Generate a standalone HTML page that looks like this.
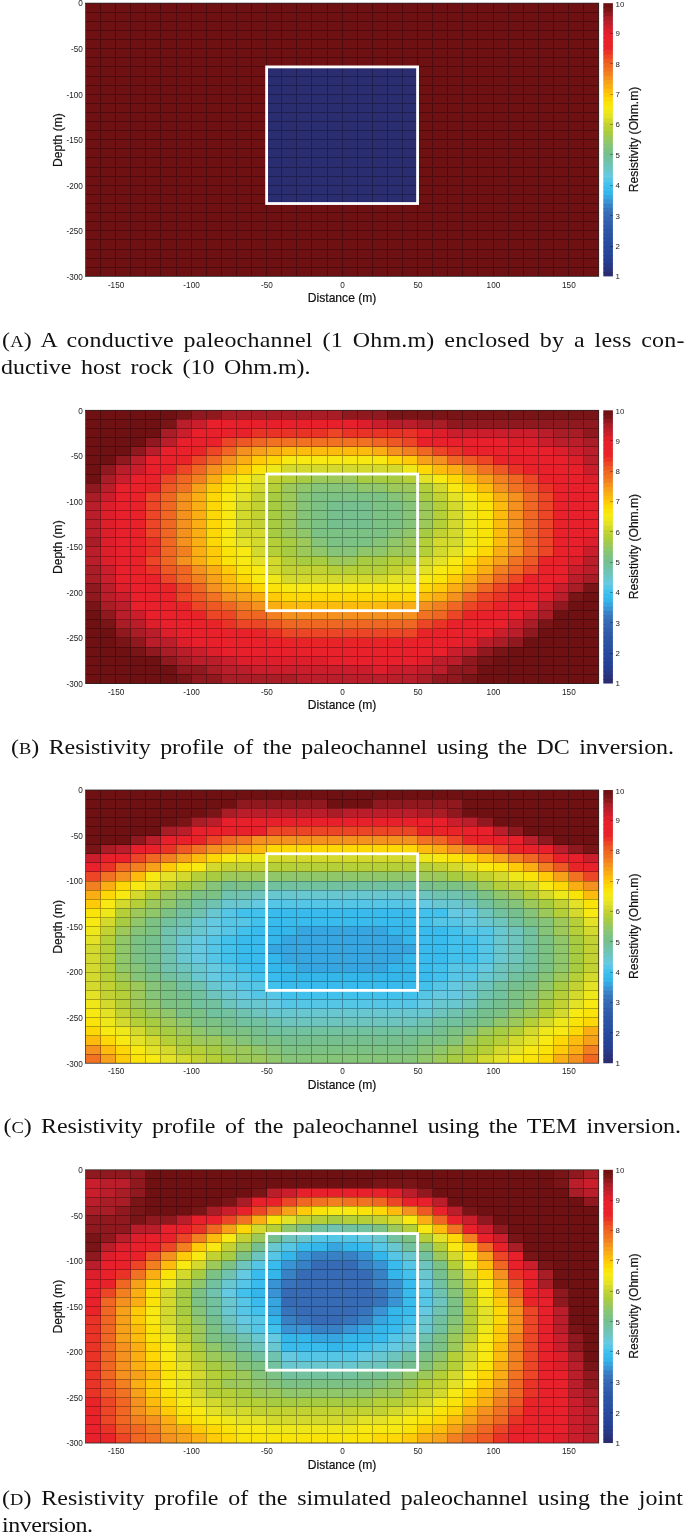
<!DOCTYPE html><html><head><meta charset="utf-8"><title>Resistivity profiles</title><style>
html,body{margin:0;padding:0;background:#fff}svg{display:block}.t{font-family:"Liberation Sans",Arial,sans-serif;font-size:8.2px;fill:#1c1c1c}.l{font-family:"Liberation Sans",Arial,sans-serif;font-size:12.1px;fill:#111;stroke:#111;stroke-width:.2}.c{font-family:"Liberation Serif","Times New Roman",serif;font-size:21.4px;fill:#111;word-spacing:3.2px}.sc{font-size:16.5px}.u{font-size:7.9px}.g{stroke:#000;stroke-width:1;stroke-opacity:.3;fill:none;shape-rendering:crispEdges}.b{stroke:#fff;stroke-width:2.8;fill:none}.a{stroke:#262626;stroke-width:.8;fill:none}
</style></head><body>
<svg width="685" height="1533" viewBox="0 0 685 1533">
<rect width="685" height="1533" fill="#fff"/>
<g transform="translate(85.5,3.15)">
<g shape-rendering="crispEdges">
<path fill="#6f1113" d="M0 0h513.2v9.11h-513.2zM0 9.11h513.2v9.11h-513.2zM0 18.22h513.2v9.11h-513.2zM0 27.32h513.2v9.11h-513.2zM0 36.43h513.2v9.11h-513.2zM0 45.54h513.2v9.11h-513.2zM0 54.65h513.2v9.11h-513.2zM0 63.76h181.13v9.11h-181.13zM332.07 63.76h181.13v9.11h-181.13zM0 72.86h181.13v9.11h-181.13zM332.07 72.86h181.13v9.11h-181.13zM0 81.97h181.13v9.11h-181.13zM332.07 81.97h181.13v9.11h-181.13zM0 91.08h181.13v9.11h-181.13zM332.07 91.08h181.13v9.11h-181.13zM0 100.19h181.13v9.11h-181.13zM332.07 100.19h181.13v9.11h-181.13zM0 109.3h181.13v9.11h-181.13zM332.07 109.3h181.13v9.11h-181.13zM0 118.4h181.13v9.11h-181.13zM332.07 118.4h181.13v9.11h-181.13zM0 127.51h181.13v9.11h-181.13zM332.07 127.51h181.13v9.11h-181.13zM0 136.62h181.13v9.11h-181.13zM332.07 136.62h181.13v9.11h-181.13zM0 145.73h181.13v9.11h-181.13zM332.07 145.73h181.13v9.11h-181.13zM0 154.84h181.13v9.11h-181.13zM332.07 154.84h181.13v9.11h-181.13zM0 163.94h181.13v9.11h-181.13zM332.07 163.94h181.13v9.11h-181.13zM0 173.05h181.13v9.11h-181.13zM332.07 173.05h181.13v9.11h-181.13zM0 182.16h181.13v9.11h-181.13zM332.07 182.16h181.13v9.11h-181.13zM0 191.27h181.13v9.11h-181.13zM332.07 191.27h181.13v9.11h-181.13zM0 200.38h513.2v9.11h-513.2zM0 209.48h513.2v9.11h-513.2zM0 218.59h513.2v9.11h-513.2zM0 227.7h513.2v9.11h-513.2zM0 236.81h513.2v9.11h-513.2zM0 245.92h513.2v9.11h-513.2zM0 255.02h513.2v9.11h-513.2zM0 264.13h513.2v9.11h-513.2z"/>
<path fill="#2b2d71" d="M181.13 63.76h150.94v9.11h-150.94zM181.13 72.86h150.94v9.11h-150.94zM181.13 81.97h150.94v9.11h-150.94zM181.13 91.08h150.94v9.11h-150.94zM181.13 100.19h150.94v9.11h-150.94zM181.13 109.3h150.94v9.11h-150.94zM181.13 118.4h150.94v9.11h-150.94zM181.13 127.51h150.94v9.11h-150.94zM181.13 136.62h150.94v9.11h-150.94zM181.13 145.73h150.94v9.11h-150.94zM181.13 154.84h150.94v9.11h-150.94zM181.13 163.94h150.94v9.11h-150.94zM181.13 173.05h150.94v9.11h-150.94zM181.13 182.16h150.94v9.11h-150.94zM181.13 191.27h150.94v9.11h-150.94z"/>
</g>
<path class="g" d="M15.09 0v273.24M30.19 0v273.24M45.28 0v273.24M60.38 0v273.24M75.47 0v273.24M90.56 0v273.24M105.66 0v273.24M120.75 0v273.24M135.85 0v273.24M150.94 0v273.24M166.03 0v273.24M181.13 0v273.24M196.22 0v273.24M211.32 0v273.24M226.41 0v273.24M241.5 0v273.24M256.6 0v273.24M271.69 0v273.24M286.79 0v273.24M301.88 0v273.24M316.97 0v273.24M332.07 0v273.24M347.16 0v273.24M362.26 0v273.24M377.35 0v273.24M392.44 0v273.24M407.54 0v273.24M422.63 0v273.24M437.73 0v273.24M452.82 0v273.24M467.91 0v273.24M483.01 0v273.24M498.1 0v273.24M0 9.11h513.2M0 18.22h513.2M0 27.32h513.2M0 36.43h513.2M0 45.54h513.2M0 54.65h513.2M0 63.76h513.2M0 72.86h513.2M0 81.97h513.2M0 91.08h513.2M0 100.19h513.2M0 109.3h513.2M0 118.4h513.2M0 127.51h513.2M0 136.62h513.2M0 145.73h513.2M0 154.84h513.2M0 163.94h513.2M0 173.05h513.2M0 182.16h513.2M0 191.27h513.2M0 200.38h513.2M0 209.48h513.2M0 218.59h513.2M0 227.7h513.2M0 236.81h513.2M0 245.92h513.2M0 255.02h513.2M0 264.13h513.2"/>
<rect class="b" x="181.13" y="63.76" width="150.94" height="136.62"/>
<rect class="a" x="0" y="0" width="513.2" height="273.24"/>
</g>
<text class="t" x="82.9" y="6.45" text-anchor="end">0</text>
<text class="t" x="82.9" y="51.99" text-anchor="end">-50</text>
<text class="t" x="82.9" y="97.53" text-anchor="end">-100</text>
<text class="t" x="82.9" y="143.07" text-anchor="end">-150</text>
<text class="t" x="82.9" y="188.61" text-anchor="end">-200</text>
<text class="t" x="82.9" y="234.15" text-anchor="end">-250</text>
<text class="t" x="82.9" y="279.69" text-anchor="end">-300</text>
<text class="t" x="116.09" y="287.59" text-anchor="middle">-150</text>
<text class="t" x="191.56" y="287.59" text-anchor="middle">-100</text>
<text class="t" x="267.03" y="287.59" text-anchor="middle">-50</text>
<text class="t" x="342.5" y="287.59" text-anchor="middle">0</text>
<text class="t" x="417.97" y="287.59" text-anchor="middle">50</text>
<text class="t" x="493.44" y="287.59" text-anchor="middle">100</text>
<text class="t" x="568.91" y="287.59" text-anchor="middle">150</text>
<text class="l" x="342.1" y="301.99" text-anchor="middle">Distance (m)</text>
<text class="l" transform="translate(62,140.05) rotate(-90)" text-anchor="middle">Depth (m)</text>
<rect x="603.3" y="3.15" width="9.6" height="5.07" fill="#6f1113"/>
<rect x="603.3" y="7.42" width="9.6" height="5.07" fill="#791517"/>
<rect x="603.3" y="11.69" width="9.6" height="5.07" fill="#8f191e"/>
<rect x="603.3" y="15.96" width="9.6" height="5.07" fill="#a91e26"/>
<rect x="603.3" y="20.23" width="9.6" height="5.07" fill="#ba1e2a"/>
<rect x="603.3" y="24.5" width="9.6" height="5.07" fill="#cb1e2d"/>
<rect x="603.3" y="28.77" width="9.6" height="5.07" fill="#dd1f2c"/>
<rect x="603.3" y="33.04" width="9.6" height="5.07" fill="#e8202c"/>
<rect x="603.3" y="37.3" width="9.6" height="5.07" fill="#e8212b"/>
<rect x="603.3" y="41.57" width="9.6" height="5.07" fill="#e8212b"/>
<rect x="603.3" y="45.84" width="9.6" height="5.07" fill="#e82429"/>
<rect x="603.3" y="50.11" width="9.6" height="5.07" fill="#ea3327"/>
<rect x="603.3" y="54.38" width="9.6" height="5.07" fill="#ec4626"/>
<rect x="603.3" y="58.65" width="9.6" height="5.07" fill="#ee5824"/>
<rect x="603.3" y="62.92" width="9.6" height="5.07" fill="#f06723"/>
<rect x="603.3" y="67.19" width="9.6" height="5.07" fill="#f17222"/>
<rect x="603.3" y="71.46" width="9.6" height="5.07" fill="#f38020"/>
<rect x="603.3" y="75.73" width="9.6" height="5.07" fill="#f5911e"/>
<rect x="603.3" y="80" width="9.6" height="5.07" fill="#f7a01a"/>
<rect x="603.3" y="84.27" width="9.6" height="5.07" fill="#faae13"/>
<rect x="603.3" y="88.54" width="9.6" height="5.07" fill="#fdbc0d"/>
<rect x="603.3" y="92.81" width="9.6" height="5.07" fill="#ffca08"/>
<rect x="603.3" y="97.08" width="9.6" height="5.07" fill="#fdd806"/>
<rect x="603.3" y="101.35" width="9.6" height="5.07" fill="#fae308"/>
<rect x="603.3" y="105.61" width="9.6" height="5.07" fill="#f7e911"/>
<rect x="603.3" y="109.88" width="9.6" height="5.07" fill="#eee81b"/>
<rect x="603.3" y="114.15" width="9.6" height="5.07" fill="#e3e226"/>
<rect x="603.3" y="118.42" width="9.6" height="5.07" fill="#d3da2d"/>
<rect x="603.3" y="122.69" width="9.6" height="5.07" fill="#c2d232"/>
<rect x="603.3" y="126.96" width="9.6" height="5.07" fill="#b4cf38"/>
<rect x="603.3" y="131.23" width="9.6" height="5.07" fill="#a7cc42"/>
<rect x="603.3" y="135.5" width="9.6" height="5.07" fill="#9cc959"/>
<rect x="603.3" y="139.77" width="9.6" height="5.07" fill="#90c76b"/>
<rect x="603.3" y="144.04" width="9.6" height="5.07" fill="#85c479"/>
<rect x="603.3" y="148.31" width="9.6" height="5.07" fill="#7dc285"/>
<rect x="603.3" y="152.58" width="9.6" height="5.07" fill="#76c090"/>
<rect x="603.3" y="156.85" width="9.6" height="5.07" fill="#73c29f"/>
<rect x="603.3" y="161.12" width="9.6" height="5.07" fill="#70c3af"/>
<rect x="603.3" y="165.39" width="9.6" height="5.07" fill="#6dc5be"/>
<rect x="603.3" y="169.66" width="9.6" height="5.07" fill="#69c7cf"/>
<rect x="603.3" y="173.92" width="9.6" height="5.07" fill="#64c9e1"/>
<rect x="603.3" y="178.19" width="9.6" height="5.07" fill="#56c6e7"/>
<rect x="603.3" y="182.46" width="9.6" height="5.07" fill="#42c1ed"/>
<rect x="603.3" y="186.73" width="9.6" height="5.07" fill="#39bced"/>
<rect x="603.3" y="191" width="9.6" height="5.07" fill="#34b6ea"/>
<rect x="603.3" y="195.27" width="9.6" height="5.07" fill="#37a5e0"/>
<rect x="603.3" y="199.54" width="9.6" height="5.07" fill="#3993d4"/>
<rect x="603.3" y="203.81" width="9.6" height="5.07" fill="#3881c5"/>
<rect x="603.3" y="208.08" width="9.6" height="5.07" fill="#3774bb"/>
<rect x="603.3" y="212.35" width="9.6" height="5.07" fill="#376bb6"/>
<rect x="603.3" y="216.62" width="9.6" height="5.07" fill="#3565b1"/>
<rect x="603.3" y="220.89" width="9.6" height="5.07" fill="#325fad"/>
<rect x="603.3" y="225.16" width="9.6" height="5.07" fill="#2f5aa9"/>
<rect x="603.3" y="229.43" width="9.6" height="5.07" fill="#2d55a5"/>
<rect x="603.3" y="233.7" width="9.6" height="5.07" fill="#2b52a3"/>
<rect x="603.3" y="237.97" width="9.6" height="5.07" fill="#294fa2"/>
<rect x="603.3" y="242.23" width="9.6" height="5.07" fill="#274ca1"/>
<rect x="603.3" y="246.5" width="9.6" height="5.07" fill="#26499d"/>
<rect x="603.3" y="250.77" width="9.6" height="5.07" fill="#264599"/>
<rect x="603.3" y="255.04" width="9.6" height="5.07" fill="#264195"/>
<rect x="603.3" y="259.31" width="9.6" height="5.07" fill="#263e90"/>
<rect x="603.3" y="263.58" width="9.6" height="5.07" fill="#283885"/>
<rect x="603.3" y="267.85" width="9.6" height="5.07" fill="#2a327b"/>
<rect x="603.3" y="272.12" width="9.6" height="4.27" fill="#2b2d71"/>
<text class="t u" x="615.6" y="278.99">1</text>
<path class="g" d="M612.9 246.03h-2.6"/>
<text class="t u" x="615.6" y="248.93">2</text>
<path class="g" d="M612.9 215.67h-2.6"/>
<text class="t u" x="615.6" y="218.57">3</text>
<path class="g" d="M612.9 185.31h-2.6"/>
<text class="t u" x="615.6" y="188.21">4</text>
<path class="g" d="M612.9 154.95h-2.6"/>
<text class="t u" x="615.6" y="157.85">5</text>
<path class="g" d="M612.9 124.59h-2.6"/>
<text class="t u" x="615.6" y="127.49">6</text>
<path class="g" d="M612.9 94.23h-2.6"/>
<text class="t u" x="615.6" y="97.13">7</text>
<path class="g" d="M612.9 63.87h-2.6"/>
<text class="t u" x="615.6" y="66.77">8</text>
<path class="g" d="M612.9 33.51h-2.6"/>
<text class="t u" x="615.6" y="36.41">9</text>
<text class="t u" x="615.6" y="6.75">10</text>
<text class="l" transform="translate(638.2,139.45) rotate(-90)" text-anchor="middle">Resistivity (Ohm.m)</text>
<g transform="translate(85.5,410.3)">
<g shape-rendering="crispEdges">
<path fill="#6f1113" d="M0 0h90.56v9.11h-90.56zM0 9.11h75.47v9.11h-75.47zM0 18.22h75.47v9.11h-75.47zM0 27.32h60.38v9.11h-60.38zM0 36.43h45.28v9.11h-45.28zM0 45.54h30.19v9.11h-30.19zM0 54.65h15.09v9.11h-15.09zM0 63.76h15.09v9.11h-15.09zM498.1 182.16h15.09v9.11h-15.09zM483.01 191.27h30.19v9.11h-30.19zM0 200.38h15.09v9.11h-15.09zM467.91 200.38h45.28v9.11h-45.28zM0 209.48h15.09v9.11h-15.09zM467.91 209.48h45.28v9.11h-45.28zM0 218.59h30.19v9.11h-30.19zM452.82 218.59h60.38v9.11h-60.38zM0 227.7h30.19v9.11h-30.19zM437.73 227.7h75.47v9.11h-75.47zM0 236.81h45.28v9.11h-45.28zM422.63 236.81h90.56v9.11h-90.56zM0 245.92h75.47v9.11h-75.47zM407.54 245.92h105.66v9.11h-105.66zM0 255.02h90.56v9.11h-90.56zM392.44 255.02h120.75v9.11h-120.75zM0 264.13h90.56v9.11h-90.56zM392.44 264.13h120.75v9.11h-120.75z"/>
<path fill="#791517" d="M90.56 0h15.09v9.11h-15.09zM301.88 0h211.32v9.11h-211.32zM75.47 9.11h15.09v9.11h-15.09zM498.1 173.05h15.09v9.11h-15.09zM483.01 182.16h15.09v9.11h-15.09zM0 191.27h15.09v9.11h-15.09zM15.09 209.48h15.09v9.11h-15.09zM452.82 209.48h15.09v9.11h-15.09zM30.19 227.7h15.09v9.11h-15.09zM45.28 236.81h15.09v9.11h-15.09zM407.54 236.81h15.09v9.11h-15.09zM392.44 245.92h15.09v9.11h-15.09zM90.56 264.13h15.09v9.11h-15.09zM377.35 264.13h15.09v9.11h-15.09z"/>
<path fill="#8f191e" d="M105.66 0h30.19v9.11h-30.19zM256.6 0h45.28v9.11h-45.28zM362.26 9.11h150.94v9.11h-150.94zM498.1 18.22h15.09v9.11h-15.09zM60.38 27.32h15.09v9.11h-15.09zM45.28 36.43h15.09v9.11h-15.09zM30.19 45.54h15.09v9.11h-15.09zM15.09 54.65h15.09v9.11h-15.09zM0 72.86h15.09v9.11h-15.09zM0 173.05h15.09v9.11h-15.09zM0 182.16h15.09v9.11h-15.09zM467.91 191.27h15.09v9.11h-15.09zM15.09 200.38h15.09v9.11h-15.09zM30.19 218.59h15.09v9.11h-15.09zM437.73 218.59h15.09v9.11h-15.09zM45.28 227.7h15.09v9.11h-15.09zM422.63 227.7h15.09v9.11h-15.09zM60.38 236.81h15.09v9.11h-15.09zM392.44 236.81h15.09v9.11h-15.09zM75.47 245.92h15.09v9.11h-15.09zM377.35 245.92h15.09v9.11h-15.09zM90.56 255.02h30.19v9.11h-30.19zM362.26 255.02h30.19v9.11h-30.19zM105.66 264.13h30.19v9.11h-30.19zM347.16 264.13h30.19v9.11h-30.19z"/>
<path fill="#a91e26" d="M135.85 0h120.75v9.11h-120.75zM332.07 9.11h30.19v9.11h-30.19zM75.47 18.22h15.09v9.11h-15.09zM467.91 18.22h30.19v9.11h-30.19zM498.1 27.32h15.09v9.11h-15.09zM15.09 63.76h15.09v9.11h-15.09zM0 81.97h15.09v9.11h-15.09zM0 127.51h15.09v9.11h-15.09zM0 154.84h15.09v9.11h-15.09zM0 163.94h15.09v9.11h-15.09zM498.1 163.94h15.09v9.11h-15.09zM483.01 173.05h15.09v9.11h-15.09zM15.09 191.27h15.09v9.11h-15.09zM452.82 200.38h15.09v9.11h-15.09zM30.19 209.48h15.09v9.11h-15.09zM437.73 209.48h15.09v9.11h-15.09zM45.28 218.59h15.09v9.11h-15.09zM407.54 227.7h15.09v9.11h-15.09zM75.47 236.81h15.09v9.11h-15.09zM90.56 245.92h15.09v9.11h-15.09zM120.75 255.02h15.09v9.11h-15.09zM135.85 264.13h75.47v9.11h-75.47zM332.07 264.13h15.09v9.11h-15.09z"/>
<path fill="#ba1e2a" d="M90.56 9.11h15.09v9.11h-15.09zM301.88 9.11h30.19v9.11h-30.19zM452.82 18.22h15.09v9.11h-15.09zM75.47 27.32h15.09v9.11h-15.09zM467.91 27.32h30.19v9.11h-30.19zM60.38 36.43h15.09v9.11h-15.09zM498.1 36.43h15.09v9.11h-15.09zM45.28 45.54h15.09v9.11h-15.09zM498.1 45.54h15.09v9.11h-15.09zM30.19 54.65h15.09v9.11h-15.09zM15.09 72.86h15.09v9.11h-15.09zM0 91.08h15.09v9.11h-15.09zM0 100.19h15.09v9.11h-15.09zM0 109.3h15.09v9.11h-15.09zM0 118.4h15.09v9.11h-15.09zM0 136.62h15.09v9.11h-15.09zM0 145.73h15.09v9.11h-15.09zM498.1 145.73h15.09v9.11h-15.09zM498.1 154.84h15.09v9.11h-15.09zM483.01 163.94h15.09v9.11h-15.09zM15.09 173.05h15.09v9.11h-15.09zM15.09 182.16h15.09v9.11h-15.09zM467.91 182.16h15.09v9.11h-15.09zM30.19 191.27h15.09v9.11h-15.09zM452.82 191.27h15.09v9.11h-15.09zM30.19 200.38h15.09v9.11h-15.09zM45.28 209.48h15.09v9.11h-15.09zM60.38 218.59h15.09v9.11h-15.09zM422.63 218.59h15.09v9.11h-15.09zM60.38 227.7h30.19v9.11h-30.19zM392.44 227.7h15.09v9.11h-15.09zM90.56 236.81h15.09v9.11h-15.09zM377.35 236.81h15.09v9.11h-15.09zM105.66 245.92h30.19v9.11h-30.19zM347.16 245.92h30.19v9.11h-30.19zM135.85 255.02h30.19v9.11h-30.19zM332.07 255.02h30.19v9.11h-30.19zM211.32 264.13h120.75v9.11h-120.75z"/>
<path fill="#cb1e2d" d="M105.66 9.11h15.09v9.11h-15.09zM286.79 9.11h15.09v9.11h-15.09zM90.56 18.22h15.09v9.11h-15.09zM362.26 18.22h90.56v9.11h-90.56zM452.82 27.32h15.09v9.11h-15.09zM483.01 36.43h15.09v9.11h-15.09zM45.28 54.65h15.09v9.11h-15.09zM498.1 54.65h15.09v9.11h-15.09zM30.19 63.76h15.09v9.11h-15.09zM15.09 81.97h15.09v9.11h-15.09zM498.1 136.62h15.09v9.11h-15.09zM15.09 154.84h15.09v9.11h-15.09zM483.01 154.84h15.09v9.11h-15.09zM15.09 163.94h15.09v9.11h-15.09zM467.91 173.05h15.09v9.11h-15.09zM30.19 182.16h15.09v9.11h-15.09zM45.28 200.38h15.09v9.11h-15.09zM437.73 200.38h15.09v9.11h-15.09zM422.63 209.48h15.09v9.11h-15.09zM407.54 218.59h15.09v9.11h-15.09zM105.66 236.81h15.09v9.11h-15.09zM362.26 236.81h15.09v9.11h-15.09zM135.85 245.92h15.09v9.11h-15.09zM166.03 255.02h120.75v9.11h-120.75zM301.88 255.02h30.19v9.11h-30.19z"/>
<path fill="#e8202c" d="M120.75 9.11h150.94v9.11h-150.94zM105.66 18.22h30.19v9.11h-30.19zM90.56 27.32h30.19v9.11h-30.19zM362.26 27.32h60.38v9.11h-60.38zM75.47 36.43h15.09v9.11h-15.09zM437.73 36.43h30.19v9.11h-30.19zM60.38 45.54h15.09v9.11h-15.09zM422.63 45.54h60.38v9.11h-60.38zM60.38 54.65h15.09v9.11h-15.09zM452.82 54.65h45.28v9.11h-45.28zM45.28 63.76h15.09v9.11h-15.09zM467.91 63.76h30.19v9.11h-30.19zM30.19 72.86h15.09v9.11h-15.09zM483.01 72.86h30.19v9.11h-30.19zM30.19 81.97h15.09v9.11h-15.09zM483.01 81.97h30.19v9.11h-30.19zM30.19 91.08h15.09v9.11h-15.09zM483.01 91.08h30.19v9.11h-30.19zM30.19 100.19h15.09v9.11h-15.09zM483.01 100.19h30.19v9.11h-30.19zM30.19 109.3h15.09v9.11h-15.09zM483.01 109.3h30.19v9.11h-30.19zM30.19 118.4h15.09v9.11h-15.09zM483.01 118.4h30.19v9.11h-30.19zM30.19 127.51h15.09v9.11h-15.09zM483.01 127.51h15.09v9.11h-15.09zM30.19 136.62h15.09v9.11h-15.09zM483.01 136.62h15.09v9.11h-15.09zM30.19 145.73h15.09v9.11h-15.09zM30.19 154.84h15.09v9.11h-15.09zM467.91 154.84h15.09v9.11h-15.09zM30.19 163.94h15.09v9.11h-15.09zM467.91 163.94h15.09v9.11h-15.09zM45.28 173.05h15.09v9.11h-15.09zM452.82 173.05h15.09v9.11h-15.09zM45.28 182.16h15.09v9.11h-15.09zM437.73 182.16h15.09v9.11h-15.09zM45.28 191.27h30.19v9.11h-30.19zM422.63 191.27h30.19v9.11h-30.19zM60.38 200.38h15.09v9.11h-15.09zM407.54 200.38h30.19v9.11h-30.19zM75.47 209.48h15.09v9.11h-15.09zM392.44 209.48h30.19v9.11h-30.19zM90.56 218.59h30.19v9.11h-30.19zM377.35 218.59h30.19v9.11h-30.19zM105.66 227.7h30.19v9.11h-30.19zM347.16 227.7h30.19v9.11h-30.19zM135.85 236.81h75.47v9.11h-75.47zM316.97 236.81h45.28v9.11h-45.28zM241.5 245.92h90.56v9.11h-90.56z"/>
<path fill="#dd1f2c" d="M271.69 9.11h15.09v9.11h-15.09zM347.16 18.22h15.09v9.11h-15.09zM422.63 27.32h30.19v9.11h-30.19zM467.91 36.43h15.09v9.11h-15.09zM483.01 45.54h15.09v9.11h-15.09zM498.1 63.76h15.09v9.11h-15.09zM15.09 91.08h15.09v9.11h-15.09zM15.09 100.19h15.09v9.11h-15.09zM15.09 109.3h15.09v9.11h-15.09zM15.09 118.4h15.09v9.11h-15.09zM15.09 127.51h15.09v9.11h-15.09zM498.1 127.51h15.09v9.11h-15.09zM15.09 136.62h15.09v9.11h-15.09zM15.09 145.73h15.09v9.11h-15.09zM483.01 145.73h15.09v9.11h-15.09zM30.19 173.05h15.09v9.11h-15.09zM452.82 182.16h15.09v9.11h-15.09zM60.38 209.48h15.09v9.11h-15.09zM75.47 218.59h15.09v9.11h-15.09zM90.56 227.7h15.09v9.11h-15.09zM377.35 227.7h15.09v9.11h-15.09zM120.75 236.81h15.09v9.11h-15.09zM150.94 245.92h90.56v9.11h-90.56zM332.07 245.92h15.09v9.11h-15.09zM286.79 255.02h15.09v9.11h-15.09z"/>
<path fill="#e8212b" d="M135.85 18.22h30.19v9.11h-30.19zM332.07 18.22h15.09v9.11h-15.09zM120.75 27.32h15.09v9.11h-15.09zM332.07 27.32h30.19v9.11h-30.19zM90.56 36.43h15.09v9.11h-15.09zM377.35 36.43h60.38v9.11h-60.38zM75.47 45.54h15.09v9.11h-15.09zM75.47 54.65h15.09v9.11h-15.09zM437.73 54.65h15.09v9.11h-15.09zM60.38 63.76h15.09v9.11h-15.09zM452.82 63.76h15.09v9.11h-15.09zM45.28 72.86h15.09v9.11h-15.09zM467.91 72.86h15.09v9.11h-15.09zM45.28 81.97h15.09v9.11h-15.09zM467.91 81.97h15.09v9.11h-15.09zM45.28 91.08h15.09v9.11h-15.09zM467.91 91.08h15.09v9.11h-15.09zM45.28 100.19h15.09v9.11h-15.09zM467.91 100.19h15.09v9.11h-15.09zM45.28 109.3h15.09v9.11h-15.09zM467.91 109.3h15.09v9.11h-15.09zM45.28 118.4h15.09v9.11h-15.09zM467.91 118.4h15.09v9.11h-15.09zM45.28 127.51h15.09v9.11h-15.09zM467.91 127.51h15.09v9.11h-15.09zM45.28 136.62h15.09v9.11h-15.09zM467.91 136.62h15.09v9.11h-15.09zM45.28 145.73h15.09v9.11h-15.09zM467.91 145.73h15.09v9.11h-15.09zM45.28 154.84h15.09v9.11h-15.09zM452.82 154.84h15.09v9.11h-15.09zM45.28 163.94h30.19v9.11h-30.19zM437.73 163.94h30.19v9.11h-30.19zM60.38 173.05h15.09v9.11h-15.09zM437.73 173.05h15.09v9.11h-15.09zM60.38 182.16h30.19v9.11h-30.19zM422.63 182.16h15.09v9.11h-15.09zM75.47 191.27h15.09v9.11h-15.09zM407.54 191.27h15.09v9.11h-15.09zM75.47 200.38h30.19v9.11h-30.19zM392.44 200.38h15.09v9.11h-15.09zM90.56 209.48h30.19v9.11h-30.19zM362.26 209.48h30.19v9.11h-30.19zM120.75 218.59h45.28v9.11h-45.28zM347.16 218.59h30.19v9.11h-30.19zM135.85 227.7h60.38v9.11h-60.38zM301.88 227.7h45.28v9.11h-45.28zM211.32 236.81h105.66v9.11h-105.66z"/>
<path fill="#ea3327" d="M166.03 18.22h75.47v9.11h-75.47zM256.6 18.22h75.47v9.11h-75.47zM362.26 36.43h15.09v9.11h-15.09zM422.63 54.65h15.09v9.11h-15.09zM452.82 72.86h15.09v9.11h-15.09zM60.38 127.51h15.09v9.11h-15.09zM60.38 136.62h15.09v9.11h-15.09zM60.38 154.84h15.09v9.11h-15.09zM407.54 182.16h15.09v9.11h-15.09zM392.44 191.27h15.09v9.11h-15.09zM135.85 209.48h15.09v9.11h-15.09zM347.16 209.48h15.09v9.11h-15.09zM181.13 218.59h15.09v9.11h-15.09z"/>
<path fill="#ec4626" d="M241.5 18.22h15.09v9.11h-15.09zM135.85 27.32h15.09v9.11h-15.09zM316.97 27.32h15.09v9.11h-15.09zM120.75 36.43h15.09v9.11h-15.09zM347.16 36.43h15.09v9.11h-15.09zM105.66 45.54h15.09v9.11h-15.09zM392.44 45.54h15.09v9.11h-15.09zM90.56 54.65h15.09v9.11h-15.09zM75.47 63.76h15.09v9.11h-15.09zM437.73 63.76h15.09v9.11h-15.09zM60.38 81.97h15.09v9.11h-15.09zM452.82 81.97h15.09v9.11h-15.09zM60.38 91.08h15.09v9.11h-15.09zM452.82 91.08h15.09v9.11h-15.09zM60.38 100.19h15.09v9.11h-15.09zM452.82 100.19h15.09v9.11h-15.09zM60.38 109.3h15.09v9.11h-15.09zM452.82 109.3h15.09v9.11h-15.09zM60.38 118.4h15.09v9.11h-15.09zM452.82 118.4h15.09v9.11h-15.09zM452.82 127.51h15.09v9.11h-15.09zM452.82 136.62h15.09v9.11h-15.09zM60.38 145.73h15.09v9.11h-15.09zM437.73 154.84h15.09v9.11h-15.09zM75.47 163.94h15.09v9.11h-15.09zM422.63 163.94h15.09v9.11h-15.09zM90.56 173.05h15.09v9.11h-15.09zM407.54 173.05h15.09v9.11h-15.09zM90.56 182.16h15.09v9.11h-15.09zM392.44 182.16h15.09v9.11h-15.09zM105.66 191.27h15.09v9.11h-15.09zM377.35 191.27h15.09v9.11h-15.09zM120.75 200.38h30.19v9.11h-30.19zM362.26 200.38h15.09v9.11h-15.09zM150.94 209.48h30.19v9.11h-30.19zM332.07 209.48h15.09v9.11h-15.09zM196.22 218.59h135.85v9.11h-135.85z"/>
<path fill="#ee5824" d="M150.94 27.32h15.09v9.11h-15.09zM301.88 27.32h15.09v9.11h-15.09zM377.35 45.54h15.09v9.11h-15.09zM407.54 54.65h15.09v9.11h-15.09zM75.47 72.86h15.09v9.11h-15.09zM437.73 72.86h15.09v9.11h-15.09zM437.73 145.73h15.09v9.11h-15.09zM75.47 154.84h15.09v9.11h-15.09zM105.66 182.16h15.09v9.11h-15.09zM120.75 191.27h15.09v9.11h-15.09zM181.13 209.48h15.09v9.11h-15.09z"/>
<path fill="#f06723" d="M166.03 27.32h15.09v9.11h-15.09zM286.79 27.32h15.09v9.11h-15.09zM135.85 36.43h15.09v9.11h-15.09zM332.07 36.43h15.09v9.11h-15.09zM120.75 45.54h15.09v9.11h-15.09zM362.26 45.54h15.09v9.11h-15.09zM105.66 54.65h15.09v9.11h-15.09zM90.56 63.76h15.09v9.11h-15.09zM422.63 63.76h15.09v9.11h-15.09zM75.47 81.97h15.09v9.11h-15.09zM437.73 81.97h15.09v9.11h-15.09zM75.47 91.08h15.09v9.11h-15.09zM437.73 91.08h15.09v9.11h-15.09zM75.47 100.19h15.09v9.11h-15.09zM437.73 100.19h15.09v9.11h-15.09zM75.47 109.3h15.09v9.11h-15.09zM437.73 109.3h15.09v9.11h-15.09zM75.47 118.4h15.09v9.11h-15.09zM437.73 118.4h15.09v9.11h-15.09zM75.47 127.51h15.09v9.11h-15.09zM437.73 127.51h15.09v9.11h-15.09zM75.47 136.62h15.09v9.11h-15.09zM437.73 136.62h15.09v9.11h-15.09zM75.47 145.73h15.09v9.11h-15.09zM90.56 154.84h15.09v9.11h-15.09zM422.63 154.84h15.09v9.11h-15.09zM90.56 163.94h15.09v9.11h-15.09zM407.54 163.94h15.09v9.11h-15.09zM105.66 173.05h15.09v9.11h-15.09zM392.44 173.05h15.09v9.11h-15.09zM377.35 182.16h15.09v9.11h-15.09zM135.85 191.27h15.09v9.11h-15.09zM362.26 191.27h15.09v9.11h-15.09zM150.94 200.38h30.19v9.11h-30.19zM347.16 200.38h15.09v9.11h-15.09zM196.22 209.48h135.85v9.11h-135.85z"/>
<path fill="#f17222" d="M181.13 27.32h105.66v9.11h-105.66zM392.44 54.65h15.09v9.11h-15.09zM90.56 72.86h15.09v9.11h-15.09zM422.63 72.86h15.09v9.11h-15.09zM422.63 145.73h15.09v9.11h-15.09zM120.75 182.16h15.09v9.11h-15.09zM332.07 200.38h15.09v9.11h-15.09z"/>
<path fill="#e82429" d="M105.66 36.43h15.09v9.11h-15.09zM90.56 45.54h15.09v9.11h-15.09zM407.54 45.54h15.09v9.11h-15.09zM60.38 72.86h15.09v9.11h-15.09zM452.82 145.73h15.09v9.11h-15.09zM75.47 173.05h15.09v9.11h-15.09zM422.63 173.05h15.09v9.11h-15.09zM90.56 191.27h15.09v9.11h-15.09zM105.66 200.38h15.09v9.11h-15.09zM377.35 200.38h15.09v9.11h-15.09zM120.75 209.48h15.09v9.11h-15.09zM166.03 218.59h15.09v9.11h-15.09zM332.07 218.59h15.09v9.11h-15.09zM196.22 227.7h105.66v9.11h-105.66z"/>
<path fill="#f5911e" d="M150.94 36.43h15.09v9.11h-15.09zM301.88 36.43h15.09v9.11h-15.09zM135.85 45.54h15.09v9.11h-15.09zM347.16 45.54h15.09v9.11h-15.09zM120.75 54.65h15.09v9.11h-15.09zM377.35 54.65h15.09v9.11h-15.09zM407.54 72.86h15.09v9.11h-15.09zM90.56 81.97h15.09v9.11h-15.09zM422.63 81.97h15.09v9.11h-15.09zM90.56 91.08h15.09v9.11h-15.09zM422.63 91.08h15.09v9.11h-15.09zM90.56 100.19h15.09v9.11h-15.09zM422.63 100.19h15.09v9.11h-15.09zM90.56 109.3h15.09v9.11h-15.09zM422.63 109.3h15.09v9.11h-15.09zM90.56 118.4h15.09v9.11h-15.09zM422.63 118.4h15.09v9.11h-15.09zM90.56 127.51h15.09v9.11h-15.09zM422.63 127.51h15.09v9.11h-15.09zM422.63 136.62h15.09v9.11h-15.09zM90.56 145.73h15.09v9.11h-15.09zM105.66 154.84h15.09v9.11h-15.09zM392.44 163.94h15.09v9.11h-15.09zM120.75 173.05h15.09v9.11h-15.09zM377.35 173.05h15.09v9.11h-15.09zM135.85 182.16h15.09v9.11h-15.09zM362.26 182.16h15.09v9.11h-15.09zM166.03 191.27h15.09v9.11h-15.09zM332.07 191.27h15.09v9.11h-15.09zM196.22 200.38h135.85v9.11h-135.85z"/>
<path fill="#f7a01a" d="M166.03 36.43h15.09v9.11h-15.09zM332.07 45.54h15.09v9.11h-15.09zM392.44 63.76h15.09v9.11h-15.09zM105.66 72.86h15.09v9.11h-15.09zM407.54 145.73h15.09v9.11h-15.09zM120.75 163.94h15.09v9.11h-15.09zM150.94 182.16h15.09v9.11h-15.09z"/>
<path fill="#faae13" d="M181.13 36.43h15.09v9.11h-15.09zM286.79 36.43h15.09v9.11h-15.09zM150.94 45.54h15.09v9.11h-15.09zM135.85 54.65h15.09v9.11h-15.09zM362.26 54.65h15.09v9.11h-15.09zM120.75 63.76h15.09v9.11h-15.09zM105.66 81.97h15.09v9.11h-15.09zM407.54 81.97h15.09v9.11h-15.09zM105.66 91.08h15.09v9.11h-15.09zM105.66 100.19h15.09v9.11h-15.09zM105.66 109.3h15.09v9.11h-15.09zM105.66 118.4h15.09v9.11h-15.09zM105.66 127.51h15.09v9.11h-15.09zM105.66 136.62h15.09v9.11h-15.09zM407.54 136.62h15.09v9.11h-15.09zM105.66 145.73h15.09v9.11h-15.09zM120.75 154.84h15.09v9.11h-15.09zM392.44 154.84h15.09v9.11h-15.09zM377.35 163.94h15.09v9.11h-15.09zM135.85 173.05h15.09v9.11h-15.09zM362.26 173.05h15.09v9.11h-15.09zM166.03 182.16h15.09v9.11h-15.09zM347.16 182.16h15.09v9.11h-15.09zM181.13 191.27h15.09v9.11h-15.09zM301.88 191.27h30.19v9.11h-30.19z"/>
<path fill="#fdbc0d" d="M196.22 36.43h90.56v9.11h-90.56zM347.16 54.65h15.09v9.11h-15.09zM377.35 63.76h15.09v9.11h-15.09zM392.44 72.86h15.09v9.11h-15.09zM407.54 91.08h15.09v9.11h-15.09zM407.54 100.19h15.09v9.11h-15.09zM407.54 109.3h15.09v9.11h-15.09zM407.54 118.4h15.09v9.11h-15.09zM407.54 127.51h15.09v9.11h-15.09zM392.44 145.73h15.09v9.11h-15.09zM135.85 163.94h15.09v9.11h-15.09zM150.94 173.05h15.09v9.11h-15.09zM332.07 182.16h15.09v9.11h-15.09zM196.22 191.27h105.66v9.11h-105.66z"/>
<path fill="#f38020" d="M316.97 36.43h15.09v9.11h-15.09zM105.66 63.76h15.09v9.11h-15.09zM407.54 63.76h15.09v9.11h-15.09zM90.56 136.62h15.09v9.11h-15.09zM407.54 154.84h15.09v9.11h-15.09zM105.66 163.94h15.09v9.11h-15.09zM150.94 191.27h15.09v9.11h-15.09zM347.16 191.27h15.09v9.11h-15.09zM181.13 200.38h15.09v9.11h-15.09z"/>
<path fill="#ffca08" d="M166.03 45.54h15.09v9.11h-15.09zM316.97 45.54h15.09v9.11h-15.09zM150.94 54.65h15.09v9.11h-15.09zM120.75 72.86h15.09v9.11h-15.09zM120.75 136.62h15.09v9.11h-15.09zM120.75 145.73h15.09v9.11h-15.09zM135.85 154.84h15.09v9.11h-15.09zM377.35 154.84h15.09v9.11h-15.09zM362.26 163.94h15.09v9.11h-15.09zM347.16 173.05h15.09v9.11h-15.09zM181.13 182.16h15.09v9.11h-15.09z"/>
<path fill="#fdd806" d="M181.13 45.54h15.09v9.11h-15.09zM301.88 45.54h15.09v9.11h-15.09zM332.07 54.65h15.09v9.11h-15.09zM135.85 63.76h15.09v9.11h-15.09zM362.26 63.76h15.09v9.11h-15.09zM377.35 72.86h15.09v9.11h-15.09zM120.75 81.97h15.09v9.11h-15.09zM392.44 81.97h15.09v9.11h-15.09zM120.75 91.08h15.09v9.11h-15.09zM120.75 100.19h15.09v9.11h-15.09zM120.75 109.3h15.09v9.11h-15.09zM120.75 118.4h15.09v9.11h-15.09zM120.75 127.51h15.09v9.11h-15.09zM392.44 136.62h15.09v9.11h-15.09zM377.35 145.73h15.09v9.11h-15.09zM150.94 163.94h15.09v9.11h-15.09zM166.03 173.05h15.09v9.11h-15.09zM332.07 173.05h15.09v9.11h-15.09zM196.22 182.16h135.85v9.11h-135.85z"/>
<path fill="#f7e911" d="M196.22 45.54h105.66v9.11h-105.66zM150.94 63.76h15.09v9.11h-15.09zM347.16 63.76h15.09v9.11h-15.09zM362.26 72.86h15.09v9.11h-15.09zM135.85 81.97h15.09v9.11h-15.09zM377.35 81.97h15.09v9.11h-15.09zM135.85 91.08h15.09v9.11h-15.09zM135.85 100.19h15.09v9.11h-15.09zM135.85 109.3h15.09v9.11h-15.09zM135.85 118.4h15.09v9.11h-15.09zM135.85 127.51h15.09v9.11h-15.09zM150.94 136.62h15.09v9.11h-15.09zM377.35 136.62h15.09v9.11h-15.09zM150.94 145.73h15.09v9.11h-15.09zM362.26 145.73h15.09v9.11h-15.09zM166.03 154.84h15.09v9.11h-15.09zM347.16 154.84h15.09v9.11h-15.09zM166.03 163.94h15.09v9.11h-15.09zM332.07 163.94h15.09v9.11h-15.09zM196.22 173.05h135.85v9.11h-135.85z"/>
<path fill="#fae308" d="M166.03 54.65h15.09v9.11h-15.09zM135.85 72.86h15.09v9.11h-15.09zM392.44 91.08h15.09v9.11h-15.09zM392.44 100.19h15.09v9.11h-15.09zM392.44 109.3h15.09v9.11h-15.09zM392.44 118.4h15.09v9.11h-15.09zM392.44 127.51h15.09v9.11h-15.09zM135.85 136.62h15.09v9.11h-15.09zM135.85 145.73h15.09v9.11h-15.09zM150.94 154.84h15.09v9.11h-15.09zM362.26 154.84h15.09v9.11h-15.09zM347.16 163.94h15.09v9.11h-15.09zM181.13 173.05h15.09v9.11h-15.09z"/>
<path fill="#eee81b" d="M181.13 54.65h15.09v9.11h-15.09zM316.97 54.65h15.09v9.11h-15.09zM150.94 72.86h15.09v9.11h-15.09zM377.35 91.08h15.09v9.11h-15.09zM377.35 100.19h15.09v9.11h-15.09zM377.35 109.3h15.09v9.11h-15.09zM377.35 118.4h15.09v9.11h-15.09zM377.35 127.51h15.09v9.11h-15.09zM181.13 163.94h15.09v9.11h-15.09z"/>
<path fill="#d3da2d" d="M196.22 54.65h120.75v9.11h-120.75zM166.03 72.86h15.09v9.11h-15.09zM347.16 72.86h15.09v9.11h-15.09zM150.94 91.08h15.09v9.11h-15.09zM362.26 91.08h15.09v9.11h-15.09zM150.94 100.19h15.09v9.11h-15.09zM362.26 100.19h15.09v9.11h-15.09zM150.94 109.3h15.09v9.11h-15.09zM362.26 109.3h15.09v9.11h-15.09zM150.94 118.4h30.19v9.11h-30.19zM362.26 118.4h15.09v9.11h-15.09zM166.03 127.51h15.09v9.11h-15.09zM347.16 127.51h30.19v9.11h-30.19zM166.03 136.62h15.09v9.11h-15.09zM347.16 136.62h15.09v9.11h-15.09zM181.13 145.73h15.09v9.11h-15.09zM332.07 145.73h15.09v9.11h-15.09zM181.13 154.84h15.09v9.11h-15.09zM316.97 154.84h15.09v9.11h-15.09zM196.22 163.94h105.66v9.11h-105.66z"/>
<path fill="#e3e226" d="M166.03 63.76h15.09v9.11h-15.09zM332.07 63.76h15.09v9.11h-15.09zM150.94 81.97h15.09v9.11h-15.09zM362.26 81.97h15.09v9.11h-15.09zM150.94 127.51h15.09v9.11h-15.09zM362.26 136.62h15.09v9.11h-15.09zM166.03 145.73h15.09v9.11h-15.09zM347.16 145.73h15.09v9.11h-15.09zM332.07 154.84h15.09v9.11h-15.09zM301.88 163.94h30.19v9.11h-30.19z"/>
<path fill="#c2d232" d="M181.13 63.76h15.09v9.11h-15.09zM166.03 81.97h15.09v9.11h-15.09zM347.16 81.97h15.09v9.11h-15.09zM166.03 91.08h15.09v9.11h-15.09zM166.03 100.19h15.09v9.11h-15.09zM166.03 109.3h15.09v9.11h-15.09zM347.16 118.4h15.09v9.11h-15.09zM196.22 154.84h45.28v9.11h-45.28zM301.88 154.84h15.09v9.11h-15.09z"/>
<path fill="#b4cf38" d="M196.22 63.76h15.09v9.11h-15.09zM316.97 63.76h15.09v9.11h-15.09zM181.13 72.86h15.09v9.11h-15.09zM332.07 72.86h15.09v9.11h-15.09zM347.16 91.08h15.09v9.11h-15.09zM347.16 100.19h15.09v9.11h-15.09zM347.16 109.3h15.09v9.11h-15.09zM181.13 127.51h15.09v9.11h-15.09zM332.07 127.51h15.09v9.11h-15.09zM181.13 136.62h15.09v9.11h-15.09zM332.07 136.62h15.09v9.11h-15.09zM196.22 145.73h15.09v9.11h-15.09zM301.88 145.73h30.19v9.11h-30.19zM241.5 154.84h60.38v9.11h-60.38z"/>
<path fill="#a7cc42" d="M211.32 63.76h15.09v9.11h-15.09zM271.69 63.76h45.28v9.11h-45.28zM181.13 81.97h15.09v9.11h-15.09zM332.07 81.97h15.09v9.11h-15.09zM181.13 91.08h15.09v9.11h-15.09zM181.13 100.19h15.09v9.11h-15.09zM181.13 109.3h15.09v9.11h-15.09zM181.13 118.4h15.09v9.11h-15.09zM332.07 118.4h15.09v9.11h-15.09zM196.22 127.51h15.09v9.11h-15.09zM196.22 136.62h15.09v9.11h-15.09zM211.32 145.73h30.19v9.11h-30.19zM271.69 145.73h30.19v9.11h-30.19z"/>
<path fill="#9cc959" d="M226.41 63.76h45.28v9.11h-45.28zM196.22 72.86h15.09v9.11h-15.09zM301.88 72.86h30.19v9.11h-30.19zM196.22 81.97h15.09v9.11h-15.09zM196.22 91.08h15.09v9.11h-15.09zM332.07 91.08h15.09v9.11h-15.09zM196.22 100.19h15.09v9.11h-15.09zM332.07 100.19h15.09v9.11h-15.09zM196.22 109.3h15.09v9.11h-15.09zM332.07 109.3h15.09v9.11h-15.09zM196.22 118.4h15.09v9.11h-15.09zM211.32 127.51h15.09v9.11h-15.09zM316.97 127.51h15.09v9.11h-15.09zM211.32 136.62h15.09v9.11h-15.09zM301.88 136.62h30.19v9.11h-30.19zM241.5 145.73h30.19v9.11h-30.19z"/>
<path fill="#90c76b" d="M211.32 72.86h15.09v9.11h-15.09zM271.69 72.86h30.19v9.11h-30.19zM316.97 81.97h15.09v9.11h-15.09zM211.32 118.4h15.09v9.11h-15.09zM316.97 118.4h15.09v9.11h-15.09zM301.88 127.51h15.09v9.11h-15.09zM226.41 136.62h15.09v9.11h-15.09zM271.69 136.62h30.19v9.11h-30.19z"/>
<path fill="#85c479" d="M226.41 72.86h45.28v9.11h-45.28zM211.32 81.97h15.09v9.11h-15.09zM301.88 81.97h15.09v9.11h-15.09zM211.32 91.08h15.09v9.11h-15.09zM316.97 91.08h15.09v9.11h-15.09zM211.32 100.19h15.09v9.11h-15.09zM316.97 100.19h15.09v9.11h-15.09zM211.32 109.3h15.09v9.11h-15.09zM316.97 109.3h15.09v9.11h-15.09zM301.88 118.4h15.09v9.11h-15.09zM226.41 127.51h15.09v9.11h-15.09zM286.79 127.51h15.09v9.11h-15.09zM241.5 136.62h30.19v9.11h-30.19z"/>
<path fill="#7dc285" d="M226.41 81.97h75.47v9.11h-75.47zM226.41 91.08h15.09v9.11h-15.09zM286.79 91.08h30.19v9.11h-30.19zM226.41 100.19h15.09v9.11h-15.09zM286.79 100.19h30.19v9.11h-30.19zM226.41 109.3h15.09v9.11h-15.09zM286.79 109.3h30.19v9.11h-30.19zM226.41 118.4h75.47v9.11h-75.47zM241.5 127.51h45.28v9.11h-45.28z"/>
<path fill="#76c090" d="M241.5 91.08h45.28v9.11h-45.28zM241.5 100.19h45.28v9.11h-45.28zM241.5 109.3h45.28v9.11h-45.28z"/>
</g>
<path class="g" d="M15.09 0v273.24M30.19 0v273.24M45.28 0v273.24M60.38 0v273.24M75.47 0v273.24M90.56 0v273.24M105.66 0v273.24M120.75 0v273.24M135.85 0v273.24M150.94 0v273.24M166.03 0v273.24M181.13 0v273.24M196.22 0v273.24M211.32 0v273.24M226.41 0v273.24M241.5 0v273.24M256.6 0v273.24M271.69 0v273.24M286.79 0v273.24M301.88 0v273.24M316.97 0v273.24M332.07 0v273.24M347.16 0v273.24M362.26 0v273.24M377.35 0v273.24M392.44 0v273.24M407.54 0v273.24M422.63 0v273.24M437.73 0v273.24M452.82 0v273.24M467.91 0v273.24M483.01 0v273.24M498.1 0v273.24M0 9.11h513.2M0 18.22h513.2M0 27.32h513.2M0 36.43h513.2M0 45.54h513.2M0 54.65h513.2M0 63.76h513.2M0 72.86h513.2M0 81.97h513.2M0 91.08h513.2M0 100.19h513.2M0 109.3h513.2M0 118.4h513.2M0 127.51h513.2M0 136.62h513.2M0 145.73h513.2M0 154.84h513.2M0 163.94h513.2M0 173.05h513.2M0 182.16h513.2M0 191.27h513.2M0 200.38h513.2M0 209.48h513.2M0 218.59h513.2M0 227.7h513.2M0 236.81h513.2M0 245.92h513.2M0 255.02h513.2M0 264.13h513.2"/>
<rect class="b" x="181.13" y="63.76" width="150.94" height="136.62"/>
<rect class="a" x="0" y="0" width="513.2" height="273.24"/>
</g>
<text class="t" x="82.9" y="413.6" text-anchor="end">0</text>
<text class="t" x="82.9" y="459.14" text-anchor="end">-50</text>
<text class="t" x="82.9" y="504.68" text-anchor="end">-100</text>
<text class="t" x="82.9" y="550.22" text-anchor="end">-150</text>
<text class="t" x="82.9" y="595.76" text-anchor="end">-200</text>
<text class="t" x="82.9" y="641.3" text-anchor="end">-250</text>
<text class="t" x="82.9" y="686.84" text-anchor="end">-300</text>
<text class="t" x="116.09" y="694.74" text-anchor="middle">-150</text>
<text class="t" x="191.56" y="694.74" text-anchor="middle">-100</text>
<text class="t" x="267.03" y="694.74" text-anchor="middle">-50</text>
<text class="t" x="342.5" y="694.74" text-anchor="middle">0</text>
<text class="t" x="417.97" y="694.74" text-anchor="middle">50</text>
<text class="t" x="493.44" y="694.74" text-anchor="middle">100</text>
<text class="t" x="568.91" y="694.74" text-anchor="middle">150</text>
<text class="l" x="342.1" y="709.14" text-anchor="middle">Distance (m)</text>
<text class="l" transform="translate(62,547.2) rotate(-90)" text-anchor="middle">Depth (m)</text>
<rect x="603.3" y="410.3" width="9.6" height="5.07" fill="#6f1113"/>
<rect x="603.3" y="414.57" width="9.6" height="5.07" fill="#791517"/>
<rect x="603.3" y="418.84" width="9.6" height="5.07" fill="#8f191e"/>
<rect x="603.3" y="423.11" width="9.6" height="5.07" fill="#a91e26"/>
<rect x="603.3" y="427.38" width="9.6" height="5.07" fill="#ba1e2a"/>
<rect x="603.3" y="431.65" width="9.6" height="5.07" fill="#cb1e2d"/>
<rect x="603.3" y="435.92" width="9.6" height="5.07" fill="#dd1f2c"/>
<rect x="603.3" y="440.19" width="9.6" height="5.07" fill="#e8202c"/>
<rect x="603.3" y="444.45" width="9.6" height="5.07" fill="#e8212b"/>
<rect x="603.3" y="448.72" width="9.6" height="5.07" fill="#e8212b"/>
<rect x="603.3" y="452.99" width="9.6" height="5.07" fill="#e82429"/>
<rect x="603.3" y="457.26" width="9.6" height="5.07" fill="#ea3327"/>
<rect x="603.3" y="461.53" width="9.6" height="5.07" fill="#ec4626"/>
<rect x="603.3" y="465.8" width="9.6" height="5.07" fill="#ee5824"/>
<rect x="603.3" y="470.07" width="9.6" height="5.07" fill="#f06723"/>
<rect x="603.3" y="474.34" width="9.6" height="5.07" fill="#f17222"/>
<rect x="603.3" y="478.61" width="9.6" height="5.07" fill="#f38020"/>
<rect x="603.3" y="482.88" width="9.6" height="5.07" fill="#f5911e"/>
<rect x="603.3" y="487.15" width="9.6" height="5.07" fill="#f7a01a"/>
<rect x="603.3" y="491.42" width="9.6" height="5.07" fill="#faae13"/>
<rect x="603.3" y="495.69" width="9.6" height="5.07" fill="#fdbc0d"/>
<rect x="603.3" y="499.96" width="9.6" height="5.07" fill="#ffca08"/>
<rect x="603.3" y="504.23" width="9.6" height="5.07" fill="#fdd806"/>
<rect x="603.3" y="508.5" width="9.6" height="5.07" fill="#fae308"/>
<rect x="603.3" y="512.76" width="9.6" height="5.07" fill="#f7e911"/>
<rect x="603.3" y="517.03" width="9.6" height="5.07" fill="#eee81b"/>
<rect x="603.3" y="521.3" width="9.6" height="5.07" fill="#e3e226"/>
<rect x="603.3" y="525.57" width="9.6" height="5.07" fill="#d3da2d"/>
<rect x="603.3" y="529.84" width="9.6" height="5.07" fill="#c2d232"/>
<rect x="603.3" y="534.11" width="9.6" height="5.07" fill="#b4cf38"/>
<rect x="603.3" y="538.38" width="9.6" height="5.07" fill="#a7cc42"/>
<rect x="603.3" y="542.65" width="9.6" height="5.07" fill="#9cc959"/>
<rect x="603.3" y="546.92" width="9.6" height="5.07" fill="#90c76b"/>
<rect x="603.3" y="551.19" width="9.6" height="5.07" fill="#85c479"/>
<rect x="603.3" y="555.46" width="9.6" height="5.07" fill="#7dc285"/>
<rect x="603.3" y="559.73" width="9.6" height="5.07" fill="#76c090"/>
<rect x="603.3" y="564" width="9.6" height="5.07" fill="#73c29f"/>
<rect x="603.3" y="568.27" width="9.6" height="5.07" fill="#70c3af"/>
<rect x="603.3" y="572.54" width="9.6" height="5.07" fill="#6dc5be"/>
<rect x="603.3" y="576.81" width="9.6" height="5.07" fill="#69c7cf"/>
<rect x="603.3" y="581.07" width="9.6" height="5.07" fill="#64c9e1"/>
<rect x="603.3" y="585.34" width="9.6" height="5.07" fill="#56c6e7"/>
<rect x="603.3" y="589.61" width="9.6" height="5.07" fill="#42c1ed"/>
<rect x="603.3" y="593.88" width="9.6" height="5.07" fill="#39bced"/>
<rect x="603.3" y="598.15" width="9.6" height="5.07" fill="#34b6ea"/>
<rect x="603.3" y="602.42" width="9.6" height="5.07" fill="#37a5e0"/>
<rect x="603.3" y="606.69" width="9.6" height="5.07" fill="#3993d4"/>
<rect x="603.3" y="610.96" width="9.6" height="5.07" fill="#3881c5"/>
<rect x="603.3" y="615.23" width="9.6" height="5.07" fill="#3774bb"/>
<rect x="603.3" y="619.5" width="9.6" height="5.07" fill="#376bb6"/>
<rect x="603.3" y="623.77" width="9.6" height="5.07" fill="#3565b1"/>
<rect x="603.3" y="628.04" width="9.6" height="5.07" fill="#325fad"/>
<rect x="603.3" y="632.31" width="9.6" height="5.07" fill="#2f5aa9"/>
<rect x="603.3" y="636.58" width="9.6" height="5.07" fill="#2d55a5"/>
<rect x="603.3" y="640.85" width="9.6" height="5.07" fill="#2b52a3"/>
<rect x="603.3" y="645.12" width="9.6" height="5.07" fill="#294fa2"/>
<rect x="603.3" y="649.38" width="9.6" height="5.07" fill="#274ca1"/>
<rect x="603.3" y="653.65" width="9.6" height="5.07" fill="#26499d"/>
<rect x="603.3" y="657.92" width="9.6" height="5.07" fill="#264599"/>
<rect x="603.3" y="662.19" width="9.6" height="5.07" fill="#264195"/>
<rect x="603.3" y="666.46" width="9.6" height="5.07" fill="#263e90"/>
<rect x="603.3" y="670.73" width="9.6" height="5.07" fill="#283885"/>
<rect x="603.3" y="675" width="9.6" height="5.07" fill="#2a327b"/>
<rect x="603.3" y="679.27" width="9.6" height="4.27" fill="#2b2d71"/>
<text class="t u" x="615.6" y="686.14">1</text>
<path class="g" d="M612.9 653.18h-2.6"/>
<text class="t u" x="615.6" y="656.08">2</text>
<path class="g" d="M612.9 622.82h-2.6"/>
<text class="t u" x="615.6" y="625.72">3</text>
<path class="g" d="M612.9 592.46h-2.6"/>
<text class="t u" x="615.6" y="595.36">4</text>
<path class="g" d="M612.9 562.1h-2.6"/>
<text class="t u" x="615.6" y="565">5</text>
<path class="g" d="M612.9 531.74h-2.6"/>
<text class="t u" x="615.6" y="534.64">6</text>
<path class="g" d="M612.9 501.38h-2.6"/>
<text class="t u" x="615.6" y="504.28">7</text>
<path class="g" d="M612.9 471.02h-2.6"/>
<text class="t u" x="615.6" y="473.92">8</text>
<path class="g" d="M612.9 440.66h-2.6"/>
<text class="t u" x="615.6" y="443.56">9</text>
<text class="t u" x="615.6" y="413.9">10</text>
<text class="l" transform="translate(638.2,546.6) rotate(-90)" text-anchor="middle">Resistivity (Ohm.m)</text>
<g transform="translate(85.5,790)">
<g shape-rendering="crispEdges">
<path fill="#6f1113" d="M0 0h513.2v9.11h-513.2zM0 9.11h150.94v9.11h-150.94zM241.5 9.11h45.28v9.11h-45.28zM377.35 9.11h135.85v9.11h-135.85zM0 18.22h120.75v9.11h-120.75zM377.35 18.22h135.85v9.11h-135.85zM0 27.32h90.56v9.11h-90.56zM407.54 27.32h105.66v9.11h-105.66zM0 36.43h75.47v9.11h-75.47zM437.73 36.43h75.47v9.11h-75.47zM0 45.54h45.28v9.11h-45.28zM467.91 45.54h45.28v9.11h-45.28z"/>
<path fill="#8f191e" d="M150.94 9.11h90.56v9.11h-90.56zM286.79 9.11h90.56v9.11h-90.56zM362.26 18.22h15.09v9.11h-15.09zM392.44 27.32h15.09v9.11h-15.09zM422.63 36.43h15.09v9.11h-15.09zM45.28 45.54h15.09v9.11h-15.09zM452.82 45.54h15.09v9.11h-15.09zM483.01 54.65h15.09v9.11h-15.09z"/>
<path fill="#791517" d="M120.75 18.22h15.09v9.11h-15.09zM90.56 27.32h15.09v9.11h-15.09zM0 54.65h15.09v9.11h-15.09zM498.1 54.65h15.09v9.11h-15.09z"/>
<path fill="#a91e26" d="M135.85 18.22h15.09v9.11h-15.09zM241.5 18.22h15.09v9.11h-15.09zM332.07 18.22h30.19v9.11h-30.19zM105.66 27.32h15.09v9.11h-15.09zM75.47 36.43h15.09v9.11h-15.09zM15.09 54.65h15.09v9.11h-15.09z"/>
<path fill="#ba1e2a" d="M150.94 18.22h90.56v9.11h-90.56zM256.6 18.22h75.47v9.11h-75.47zM120.75 27.32h15.09v9.11h-15.09zM377.35 27.32h15.09v9.11h-15.09zM90.56 36.43h15.09v9.11h-15.09zM407.54 36.43h15.09v9.11h-15.09zM60.38 45.54h15.09v9.11h-15.09zM437.73 45.54h15.09v9.11h-15.09zM30.19 54.65h15.09v9.11h-15.09zM467.91 54.65h15.09v9.11h-15.09z"/>
<path fill="#e8202c" d="M135.85 27.32h226.41v9.11h-226.41zM105.66 36.43h15.09v9.11h-15.09zM392.44 36.43h15.09v9.11h-15.09zM75.47 45.54h15.09v9.11h-15.09zM407.54 45.54h30.19v9.11h-30.19zM45.28 54.65h15.09v9.11h-15.09zM452.82 54.65h15.09v9.11h-15.09zM15.09 63.76h15.09v9.11h-15.09zM483.01 63.76h15.09v9.11h-15.09z"/>
<path fill="#cb1e2d" d="M362.26 27.32h15.09v9.11h-15.09zM0 63.76h15.09v9.11h-15.09zM498.1 63.76h15.09v9.11h-15.09z"/>
<path fill="#e8212b" d="M120.75 36.43h60.38v9.11h-60.38zM377.35 36.43h15.09v9.11h-15.09zM90.56 45.54h15.09v9.11h-15.09zM392.44 45.54h15.09v9.11h-15.09zM60.38 54.65h15.09v9.11h-15.09zM437.73 54.65h15.09v9.11h-15.09zM30.19 63.76h15.09v9.11h-15.09zM467.91 63.76h15.09v9.11h-15.09zM0 72.86h15.09v9.11h-15.09zM498.1 72.86h15.09v9.11h-15.09z"/>
<path fill="#ec4626" d="M181.13 36.43h150.94v9.11h-150.94zM120.75 45.54h15.09v9.11h-15.09zM362.26 45.54h15.09v9.11h-15.09zM407.54 54.65h15.09v9.11h-15.09zM45.28 63.76h15.09v9.11h-15.09zM452.82 63.76h15.09v9.11h-15.09zM0 81.97h15.09v9.11h-15.09zM498.1 81.97h15.09v9.11h-15.09z"/>
<path fill="#e82429" d="M332.07 36.43h45.28v9.11h-45.28zM105.66 45.54h15.09v9.11h-15.09zM377.35 45.54h15.09v9.11h-15.09zM422.63 54.65h15.09v9.11h-15.09zM483.01 72.86h15.09v9.11h-15.09z"/>
<path fill="#f06723" d="M135.85 45.54h15.09v9.11h-15.09zM347.16 45.54h15.09v9.11h-15.09zM392.44 54.65h15.09v9.11h-15.09zM60.38 63.76h15.09v9.11h-15.09zM437.73 63.76h15.09v9.11h-15.09zM30.19 72.86h15.09v9.11h-15.09zM498.1 264.13h15.09v9.11h-15.09z"/>
<path fill="#f17222" d="M150.94 45.54h15.09v9.11h-15.09zM332.07 45.54h15.09v9.11h-15.09zM105.66 54.65h15.09v9.11h-15.09zM15.09 81.97h15.09v9.11h-15.09zM483.01 81.97h15.09v9.11h-15.09zM0 264.13h15.09v9.11h-15.09z"/>
<path fill="#f5911e" d="M166.03 45.54h166.03v9.11h-166.03zM120.75 54.65h15.09v9.11h-15.09zM362.26 54.65h15.09v9.11h-15.09zM30.19 81.97h15.09v9.11h-15.09zM498.1 91.08h15.09v9.11h-15.09zM0 255.02h15.09v9.11h-15.09zM483.01 264.13h15.09v9.11h-15.09z"/>
<path fill="#ea3327" d="M75.47 54.65h15.09v9.11h-15.09zM15.09 72.86h15.09v9.11h-15.09z"/>
<path fill="#ee5824" d="M90.56 54.65h15.09v9.11h-15.09zM467.91 72.86h15.09v9.11h-15.09z"/>
<path fill="#f7a01a" d="M135.85 54.65h15.09v9.11h-15.09zM90.56 63.76h15.09v9.11h-15.09zM407.54 63.76h15.09v9.11h-15.09zM60.38 72.86h15.09v9.11h-15.09zM467.91 81.97h15.09v9.11h-15.09zM498.1 245.92h15.09v9.11h-15.09zM15.09 264.13h15.09v9.11h-15.09z"/>
<path fill="#faae13" d="M150.94 54.65h15.09v9.11h-15.09zM347.16 54.65h15.09v9.11h-15.09zM437.73 72.86h15.09v9.11h-15.09zM15.09 91.08h15.09v9.11h-15.09zM483.01 91.08h15.09v9.11h-15.09zM0 100.19h15.09v9.11h-15.09zM498.1 236.81h15.09v9.11h-15.09zM483.01 255.02h15.09v9.11h-15.09zM467.91 264.13h15.09v9.11h-15.09z"/>
<path fill="#fdbc0d" d="M166.03 54.65h15.09v9.11h-15.09zM332.07 54.65h15.09v9.11h-15.09zM105.66 63.76h15.09v9.11h-15.09zM392.44 63.76h15.09v9.11h-15.09zM45.28 81.97h15.09v9.11h-15.09zM498.1 100.19h15.09v9.11h-15.09zM0 245.92h15.09v9.11h-15.09zM483.01 245.92h15.09v9.11h-15.09zM15.09 255.02h15.09v9.11h-15.09z"/>
<path fill="#fdd806" d="M181.13 54.65h150.94v9.11h-150.94zM120.75 63.76h15.09v9.11h-15.09zM377.35 63.76h15.09v9.11h-15.09zM30.19 91.08h15.09v9.11h-15.09zM467.91 91.08h15.09v9.11h-15.09zM15.09 100.19h15.09v9.11h-15.09zM498.1 227.7h15.09v9.11h-15.09zM0 236.81h15.09v9.11h-15.09zM483.01 236.81h15.09v9.11h-15.09zM15.09 245.92h15.09v9.11h-15.09zM467.91 245.92h15.09v9.11h-15.09zM30.19 255.02h15.09v9.11h-15.09zM452.82 264.13h15.09v9.11h-15.09z"/>
<path fill="#f38020" d="M377.35 54.65h15.09v9.11h-15.09zM75.47 63.76h15.09v9.11h-15.09zM422.63 63.76h15.09v9.11h-15.09zM45.28 72.86h15.09v9.11h-15.09zM452.82 72.86h15.09v9.11h-15.09zM0 91.08h15.09v9.11h-15.09zM498.1 255.02h15.09v9.11h-15.09z"/>
<path fill="#f7e911" d="M135.85 63.76h15.09v9.11h-15.09zM347.16 63.76h15.09v9.11h-15.09zM105.66 72.86h15.09v9.11h-15.09zM392.44 72.86h15.09v9.11h-15.09zM60.38 81.97h15.09v9.11h-15.09zM45.28 91.08h15.09v9.11h-15.09zM452.82 91.08h15.09v9.11h-15.09zM30.19 100.19h15.09v9.11h-15.09zM15.09 109.3h15.09v9.11h-15.09zM498.1 118.4h15.09v9.11h-15.09zM0 127.51h15.09v9.11h-15.09zM498.1 209.48h15.09v9.11h-15.09zM0 218.59h15.09v9.11h-15.09zM483.01 218.59h15.09v9.11h-15.09zM15.09 236.81h15.09v9.11h-15.09zM467.91 236.81h15.09v9.11h-15.09zM30.19 245.92h15.09v9.11h-15.09zM452.82 245.92h15.09v9.11h-15.09zM45.28 255.02h15.09v9.11h-15.09zM437.73 255.02h15.09v9.11h-15.09zM60.38 264.13h15.09v9.11h-15.09zM422.63 264.13h15.09v9.11h-15.09z"/>
<path fill="#eee81b" d="M150.94 63.76h30.19v9.11h-30.19zM332.07 63.76h15.09v9.11h-15.09zM422.63 81.97h15.09v9.11h-15.09zM467.91 100.19h15.09v9.11h-15.09zM15.09 118.4h15.09v9.11h-15.09zM0 136.62h15.09v9.11h-15.09zM498.1 200.38h15.09v9.11h-15.09zM0 209.48h15.09v9.11h-15.09zM15.09 227.7h15.09v9.11h-15.09zM467.91 227.7h15.09v9.11h-15.09zM30.19 236.81h15.09v9.11h-15.09zM452.82 236.81h15.09v9.11h-15.09z"/>
<path fill="#d3da2d" d="M181.13 63.76h150.94v9.11h-150.94zM120.75 72.86h15.09v9.11h-15.09zM362.26 72.86h15.09v9.11h-15.09zM90.56 81.97h15.09v9.11h-15.09zM407.54 81.97h15.09v9.11h-15.09zM437.73 91.08h15.09v9.11h-15.09zM45.28 100.19h15.09v9.11h-15.09zM452.82 100.19h15.09v9.11h-15.09zM30.19 109.3h15.09v9.11h-15.09zM483.01 118.4h15.09v9.11h-15.09zM15.09 127.51h15.09v9.11h-15.09zM498.1 136.62h15.09v9.11h-15.09zM0 154.84h15.09v9.11h-15.09zM0 163.94h15.09v9.11h-15.09zM0 173.05h15.09v9.11h-15.09zM0 182.16h15.09v9.11h-15.09zM498.1 182.16h15.09v9.11h-15.09zM0 191.27h15.09v9.11h-15.09zM483.01 200.38h15.09v9.11h-15.09zM15.09 209.48h15.09v9.11h-15.09zM467.91 218.59h15.09v9.11h-15.09zM30.19 227.7h15.09v9.11h-15.09zM452.82 227.7h15.09v9.11h-15.09zM45.28 236.81h15.09v9.11h-15.09zM437.73 236.81h15.09v9.11h-15.09zM60.38 245.92h15.09v9.11h-15.09zM422.63 245.92h15.09v9.11h-15.09zM75.47 255.02h15.09v9.11h-15.09zM407.54 255.02h15.09v9.11h-15.09zM90.56 264.13h15.09v9.11h-15.09zM392.44 264.13h15.09v9.11h-15.09z"/>
<path fill="#fae308" d="M362.26 63.76h15.09v9.11h-15.09zM90.56 72.86h15.09v9.11h-15.09zM407.54 72.86h15.09v9.11h-15.09zM437.73 81.97h15.09v9.11h-15.09zM483.01 100.19h15.09v9.11h-15.09zM498.1 109.3h15.09v9.11h-15.09zM0 118.4h15.09v9.11h-15.09zM498.1 218.59h15.09v9.11h-15.09zM0 227.7h15.09v9.11h-15.09zM483.01 227.7h15.09v9.11h-15.09zM452.82 255.02h15.09v9.11h-15.09zM45.28 264.13h15.09v9.11h-15.09zM437.73 264.13h15.09v9.11h-15.09z"/>
<path fill="#ffca08" d="M75.47 72.86h15.09v9.11h-15.09zM422.63 72.86h15.09v9.11h-15.09zM452.82 81.97h15.09v9.11h-15.09zM0 109.3h15.09v9.11h-15.09zM467.91 255.02h15.09v9.11h-15.09zM30.19 264.13h15.09v9.11h-15.09z"/>
<path fill="#c2d232" d="M135.85 72.86h45.28v9.11h-45.28zM347.16 72.86h15.09v9.11h-15.09zM392.44 81.97h15.09v9.11h-15.09zM75.47 91.08h15.09v9.11h-15.09zM422.63 91.08h15.09v9.11h-15.09zM467.91 109.3h15.09v9.11h-15.09zM15.09 136.62h15.09v9.11h-15.09zM498.1 145.73h15.09v9.11h-15.09zM498.1 154.84h15.09v9.11h-15.09zM498.1 163.94h15.09v9.11h-15.09zM498.1 173.05h15.09v9.11h-15.09zM15.09 191.27h15.09v9.11h-15.09zM483.01 191.27h15.09v9.11h-15.09zM15.09 200.38h15.09v9.11h-15.09zM467.91 209.48h15.09v9.11h-15.09zM30.19 218.59h15.09v9.11h-15.09zM105.66 264.13h15.09v9.11h-15.09z"/>
<path fill="#b4cf38" d="M181.13 72.86h166.03v9.11h-166.03zM105.66 81.97h15.09v9.11h-15.09zM377.35 81.97h15.09v9.11h-15.09zM407.54 91.08h15.09v9.11h-15.09zM60.38 100.19h15.09v9.11h-15.09zM437.73 100.19h15.09v9.11h-15.09zM45.28 109.3h15.09v9.11h-15.09zM30.19 118.4h15.09v9.11h-15.09zM467.91 118.4h15.09v9.11h-15.09zM483.01 127.51h15.09v9.11h-15.09zM483.01 136.62h15.09v9.11h-15.09zM15.09 145.73h15.09v9.11h-15.09zM15.09 154.84h15.09v9.11h-15.09zM15.09 163.94h15.09v9.11h-15.09zM15.09 173.05h15.09v9.11h-15.09zM15.09 182.16h15.09v9.11h-15.09zM483.01 182.16h15.09v9.11h-15.09zM30.19 200.38h15.09v9.11h-15.09zM467.91 200.38h15.09v9.11h-15.09zM30.19 209.48h15.09v9.11h-15.09zM452.82 218.59h15.09v9.11h-15.09zM45.28 227.7h15.09v9.11h-15.09zM437.73 227.7h15.09v9.11h-15.09zM60.38 236.81h15.09v9.11h-15.09zM422.63 236.81h15.09v9.11h-15.09zM75.47 245.92h15.09v9.11h-15.09zM407.54 245.92h15.09v9.11h-15.09zM90.56 255.02h30.19v9.11h-30.19zM392.44 255.02h15.09v9.11h-15.09zM120.75 264.13h15.09v9.11h-15.09zM377.35 264.13h15.09v9.11h-15.09z"/>
<path fill="#e3e226" d="M377.35 72.86h15.09v9.11h-15.09zM75.47 81.97h15.09v9.11h-15.09zM60.38 91.08h15.09v9.11h-15.09zM483.01 109.3h15.09v9.11h-15.09zM498.1 127.51h15.09v9.11h-15.09zM0 145.73h15.09v9.11h-15.09zM498.1 191.27h15.09v9.11h-15.09zM0 200.38h15.09v9.11h-15.09zM483.01 209.48h15.09v9.11h-15.09zM15.09 218.59h15.09v9.11h-15.09zM45.28 245.92h15.09v9.11h-15.09zM437.73 245.92h15.09v9.11h-15.09zM60.38 255.02h15.09v9.11h-15.09zM422.63 255.02h15.09v9.11h-15.09zM75.47 264.13h15.09v9.11h-15.09zM407.54 264.13h15.09v9.11h-15.09z"/>
<path fill="#a7cc42" d="M120.75 81.97h15.09v9.11h-15.09zM362.26 81.97h15.09v9.11h-15.09zM90.56 91.08h15.09v9.11h-15.09zM452.82 109.3h15.09v9.11h-15.09zM30.19 127.51h15.09v9.11h-15.09zM483.01 145.73h15.09v9.11h-15.09zM483.01 154.84h15.09v9.11h-15.09zM483.01 163.94h15.09v9.11h-15.09zM483.01 173.05h15.09v9.11h-15.09zM30.19 191.27h15.09v9.11h-15.09zM467.91 191.27h15.09v9.11h-15.09zM452.82 209.48h15.09v9.11h-15.09zM45.28 218.59h15.09v9.11h-15.09zM60.38 227.7h15.09v9.11h-15.09zM75.47 236.81h15.09v9.11h-15.09zM407.54 236.81h15.09v9.11h-15.09zM90.56 245.92h15.09v9.11h-15.09zM392.44 245.92h15.09v9.11h-15.09zM120.75 255.02h15.09v9.11h-15.09zM377.35 255.02h15.09v9.11h-15.09zM135.85 264.13h15.09v9.11h-15.09zM362.26 264.13h15.09v9.11h-15.09z"/>
<path fill="#9cc959" d="M135.85 81.97h45.28v9.11h-45.28zM332.07 81.97h30.19v9.11h-30.19zM105.66 91.08h15.09v9.11h-15.09zM392.44 91.08h15.09v9.11h-15.09zM75.47 100.19h15.09v9.11h-15.09zM422.63 100.19h15.09v9.11h-15.09zM60.38 109.3h15.09v9.11h-15.09zM437.73 109.3h15.09v9.11h-15.09zM45.28 118.4h15.09v9.11h-15.09zM452.82 118.4h15.09v9.11h-15.09zM467.91 127.51h15.09v9.11h-15.09zM30.19 136.62h15.09v9.11h-15.09zM467.91 136.62h15.09v9.11h-15.09zM30.19 182.16h15.09v9.11h-15.09zM467.91 182.16h15.09v9.11h-15.09zM45.28 191.27h15.09v9.11h-15.09zM45.28 200.38h15.09v9.11h-15.09zM452.82 200.38h15.09v9.11h-15.09zM45.28 209.48h15.09v9.11h-15.09zM60.38 218.59h15.09v9.11h-15.09zM437.73 218.59h15.09v9.11h-15.09zM75.47 227.7h15.09v9.11h-15.09zM422.63 227.7h15.09v9.11h-15.09zM90.56 236.81h15.09v9.11h-15.09zM392.44 236.81h15.09v9.11h-15.09zM105.66 245.92h30.19v9.11h-30.19zM377.35 245.92h15.09v9.11h-15.09zM135.85 255.02h30.19v9.11h-30.19zM362.26 255.02h15.09v9.11h-15.09zM150.94 264.13h30.19v9.11h-30.19zM347.16 264.13h15.09v9.11h-15.09z"/>
<path fill="#90c76b" d="M181.13 81.97h150.94v9.11h-150.94zM90.56 100.19h15.09v9.11h-15.09zM407.54 100.19h15.09v9.11h-15.09zM75.47 109.3h15.09v9.11h-15.09zM60.38 118.4h15.09v9.11h-15.09zM45.28 127.51h15.09v9.11h-15.09zM30.19 145.73h15.09v9.11h-15.09zM467.91 145.73h15.09v9.11h-15.09zM30.19 154.84h15.09v9.11h-15.09zM467.91 154.84h15.09v9.11h-15.09zM30.19 163.94h15.09v9.11h-15.09zM467.91 163.94h15.09v9.11h-15.09zM30.19 173.05h15.09v9.11h-15.09zM467.91 173.05h15.09v9.11h-15.09zM452.82 191.27h15.09v9.11h-15.09zM60.38 209.48h15.09v9.11h-15.09zM437.73 209.48h15.09v9.11h-15.09zM75.47 218.59h15.09v9.11h-15.09zM422.63 218.59h15.09v9.11h-15.09zM90.56 227.7h15.09v9.11h-15.09zM407.54 227.7h15.09v9.11h-15.09zM105.66 236.81h15.09v9.11h-15.09zM135.85 245.92h15.09v9.11h-15.09zM166.03 255.02h15.09v9.11h-15.09zM347.16 255.02h15.09v9.11h-15.09zM181.13 264.13h15.09v9.11h-15.09zM332.07 264.13h15.09v9.11h-15.09z"/>
<path fill="#85c479" d="M120.75 91.08h15.09v9.11h-15.09zM377.35 91.08h15.09v9.11h-15.09zM422.63 109.3h15.09v9.11h-15.09zM437.73 118.4h15.09v9.11h-15.09zM452.82 127.51h15.09v9.11h-15.09zM45.28 136.62h15.09v9.11h-15.09zM452.82 136.62h15.09v9.11h-15.09zM45.28 173.05h15.09v9.11h-15.09zM45.28 182.16h15.09v9.11h-15.09zM452.82 182.16h15.09v9.11h-15.09zM60.38 191.27h15.09v9.11h-15.09zM60.38 200.38h15.09v9.11h-15.09zM437.73 200.38h15.09v9.11h-15.09zM120.75 236.81h15.09v9.11h-15.09zM377.35 236.81h15.09v9.11h-15.09zM150.94 245.92h15.09v9.11h-15.09zM362.26 245.92h15.09v9.11h-15.09zM181.13 255.02h15.09v9.11h-15.09zM332.07 255.02h15.09v9.11h-15.09zM196.22 264.13h135.85v9.11h-135.85z"/>
<path fill="#76c090" d="M135.85 91.08h15.09v9.11h-15.09zM166.03 91.08h15.09v9.11h-15.09zM332.07 91.08h15.09v9.11h-15.09zM422.63 118.4h15.09v9.11h-15.09zM60.38 145.73h15.09v9.11h-15.09zM60.38 154.84h15.09v9.11h-15.09zM60.38 163.94h15.09v9.11h-15.09zM60.38 173.05h15.09v9.11h-15.09zM437.73 182.16h15.09v9.11h-15.09zM422.63 191.27h15.09v9.11h-15.09zM90.56 200.38h15.09v9.11h-15.09zM407.54 209.48h15.09v9.11h-15.09zM392.44 218.59h15.09v9.11h-15.09zM135.85 227.7h15.09v9.11h-15.09zM377.35 227.7h15.09v9.11h-15.09zM166.03 236.81h15.09v9.11h-15.09zM347.16 236.81h15.09v9.11h-15.09zM196.22 245.92h135.85v9.11h-135.85z"/>
<path fill="#7dc285" d="M150.94 91.08h15.09v9.11h-15.09zM347.16 91.08h30.19v9.11h-30.19zM105.66 100.19h30.19v9.11h-30.19zM392.44 100.19h15.09v9.11h-15.09zM90.56 109.3h15.09v9.11h-15.09zM407.54 109.3h15.09v9.11h-15.09zM75.47 118.4h15.09v9.11h-15.09zM60.38 127.51h15.09v9.11h-15.09zM437.73 127.51h15.09v9.11h-15.09zM60.38 136.62h15.09v9.11h-15.09zM45.28 145.73h15.09v9.11h-15.09zM452.82 145.73h15.09v9.11h-15.09zM45.28 154.84h15.09v9.11h-15.09zM452.82 154.84h15.09v9.11h-15.09zM45.28 163.94h15.09v9.11h-15.09zM452.82 163.94h15.09v9.11h-15.09zM452.82 173.05h15.09v9.11h-15.09zM60.38 182.16h15.09v9.11h-15.09zM75.47 191.27h15.09v9.11h-15.09zM437.73 191.27h15.09v9.11h-15.09zM75.47 200.38h15.09v9.11h-15.09zM422.63 200.38h15.09v9.11h-15.09zM75.47 209.48h30.19v9.11h-30.19zM422.63 209.48h15.09v9.11h-15.09zM90.56 218.59h30.19v9.11h-30.19zM407.54 218.59h15.09v9.11h-15.09zM105.66 227.7h30.19v9.11h-30.19zM392.44 227.7h15.09v9.11h-15.09zM135.85 236.81h30.19v9.11h-30.19zM362.26 236.81h15.09v9.11h-15.09zM166.03 245.92h30.19v9.11h-30.19zM332.07 245.92h30.19v9.11h-30.19zM196.22 255.02h135.85v9.11h-135.85z"/>
<path fill="#73c29f" d="M181.13 91.08h150.94v9.11h-150.94zM377.35 100.19h15.09v9.11h-15.09zM105.66 109.3h15.09v9.11h-15.09zM392.44 109.3h15.09v9.11h-15.09zM90.56 118.4h15.09v9.11h-15.09zM407.54 118.4h15.09v9.11h-15.09zM75.47 127.51h15.09v9.11h-15.09zM422.63 127.51h15.09v9.11h-15.09zM437.73 136.62h15.09v9.11h-15.09zM437.73 145.73h15.09v9.11h-15.09zM437.73 154.84h15.09v9.11h-15.09zM437.73 163.94h15.09v9.11h-15.09zM437.73 173.05h15.09v9.11h-15.09zM75.47 182.16h15.09v9.11h-15.09zM422.63 182.16h15.09v9.11h-15.09zM90.56 191.27h15.09v9.11h-15.09zM407.54 191.27h15.09v9.11h-15.09zM105.66 200.38h15.09v9.11h-15.09zM407.54 200.38h15.09v9.11h-15.09zM105.66 209.48h30.19v9.11h-30.19zM392.44 209.48h15.09v9.11h-15.09zM120.75 218.59h30.19v9.11h-30.19zM377.35 218.59h15.09v9.11h-15.09zM150.94 227.7h30.19v9.11h-30.19zM347.16 227.7h30.19v9.11h-30.19zM181.13 236.81h166.03v9.11h-166.03z"/>
<path fill="#70c3af" d="M135.85 100.19h30.19v9.11h-30.19zM347.16 100.19h30.19v9.11h-30.19zM120.75 109.3h15.09v9.11h-15.09zM105.66 118.4h15.09v9.11h-15.09zM90.56 127.51h15.09v9.11h-15.09zM75.47 136.62h15.09v9.11h-15.09zM75.47 145.73h15.09v9.11h-15.09zM75.47 154.84h15.09v9.11h-15.09zM75.47 163.94h15.09v9.11h-15.09zM75.47 173.05h15.09v9.11h-15.09zM422.63 173.05h15.09v9.11h-15.09zM90.56 182.16h15.09v9.11h-15.09zM105.66 191.27h15.09v9.11h-15.09zM392.44 200.38h15.09v9.11h-15.09zM150.94 218.59h15.09v9.11h-15.09zM362.26 218.59h15.09v9.11h-15.09zM181.13 227.7h15.09v9.11h-15.09zM332.07 227.7h15.09v9.11h-15.09z"/>
<path fill="#6dc5be" d="M166.03 100.19h15.09v9.11h-15.09zM332.07 100.19h15.09v9.11h-15.09zM377.35 109.3h15.09v9.11h-15.09zM392.44 118.4h15.09v9.11h-15.09zM407.54 127.51h15.09v9.11h-15.09zM90.56 136.62h15.09v9.11h-15.09zM422.63 136.62h15.09v9.11h-15.09zM422.63 145.73h15.09v9.11h-15.09zM422.63 154.84h15.09v9.11h-15.09zM422.63 163.94h15.09v9.11h-15.09zM90.56 173.05h15.09v9.11h-15.09zM407.54 173.05h15.09v9.11h-15.09zM407.54 182.16h15.09v9.11h-15.09zM392.44 191.27h15.09v9.11h-15.09zM120.75 200.38h15.09v9.11h-15.09zM135.85 209.48h15.09v9.11h-15.09zM377.35 209.48h15.09v9.11h-15.09zM166.03 218.59h15.09v9.11h-15.09zM347.16 218.59h15.09v9.11h-15.09zM196.22 227.7h135.85v9.11h-135.85z"/>
<path fill="#69c7cf" d="M181.13 100.19h150.94v9.11h-150.94zM135.85 109.3h30.19v9.11h-30.19zM347.16 109.3h30.19v9.11h-30.19zM120.75 118.4h15.09v9.11h-15.09zM105.66 127.51h15.09v9.11h-15.09zM392.44 127.51h15.09v9.11h-15.09zM105.66 136.62h15.09v9.11h-15.09zM407.54 136.62h15.09v9.11h-15.09zM90.56 145.73h15.09v9.11h-15.09zM407.54 145.73h15.09v9.11h-15.09zM90.56 154.84h15.09v9.11h-15.09zM407.54 154.84h15.09v9.11h-15.09zM90.56 163.94h15.09v9.11h-15.09zM407.54 163.94h15.09v9.11h-15.09zM105.66 173.05h15.09v9.11h-15.09zM105.66 182.16h15.09v9.11h-15.09zM392.44 182.16h15.09v9.11h-15.09zM120.75 191.27h15.09v9.11h-15.09zM377.35 191.27h15.09v9.11h-15.09zM135.85 200.38h15.09v9.11h-15.09zM377.35 200.38h15.09v9.11h-15.09zM150.94 209.48h30.19v9.11h-30.19zM347.16 209.48h30.19v9.11h-30.19zM181.13 218.59h166.03v9.11h-166.03z"/>
<path fill="#64c9e1" d="M166.03 109.3h15.09v9.11h-15.09zM332.07 109.3h15.09v9.11h-15.09zM362.26 118.4h30.19v9.11h-30.19zM120.75 127.51h15.09v9.11h-15.09zM377.35 127.51h15.09v9.11h-15.09zM120.75 136.62h15.09v9.11h-15.09zM105.66 145.73h15.09v9.11h-15.09zM105.66 154.84h15.09v9.11h-15.09zM105.66 163.94h15.09v9.11h-15.09zM120.75 173.05h15.09v9.11h-15.09zM392.44 173.05h15.09v9.11h-15.09zM120.75 182.16h15.09v9.11h-15.09zM135.85 191.27h15.09v9.11h-15.09zM362.26 191.27h15.09v9.11h-15.09zM150.94 200.38h15.09v9.11h-15.09zM347.16 200.38h30.19v9.11h-30.19zM181.13 209.48h15.09v9.11h-15.09zM332.07 209.48h15.09v9.11h-15.09z"/>
<path fill="#56c6e7" d="M181.13 109.3h150.94v9.11h-150.94zM135.85 118.4h15.09v9.11h-15.09zM135.85 127.51h30.19v9.11h-30.19zM347.16 127.51h30.19v9.11h-30.19zM135.85 136.62h15.09v9.11h-15.09zM377.35 136.62h30.19v9.11h-30.19zM120.75 145.73h15.09v9.11h-15.09zM392.44 145.73h15.09v9.11h-15.09zM120.75 154.84h15.09v9.11h-15.09zM392.44 154.84h15.09v9.11h-15.09zM120.75 163.94h15.09v9.11h-15.09zM392.44 163.94h15.09v9.11h-15.09zM135.85 173.05h15.09v9.11h-15.09zM362.26 173.05h30.19v9.11h-30.19zM135.85 182.16h30.19v9.11h-30.19zM362.26 182.16h30.19v9.11h-30.19zM150.94 191.27h30.19v9.11h-30.19zM347.16 191.27h15.09v9.11h-15.09zM166.03 200.38h30.19v9.11h-30.19zM332.07 200.38h15.09v9.11h-15.09zM196.22 209.48h135.85v9.11h-135.85z"/>
<path fill="#42c1ed" d="M150.94 118.4h30.19v9.11h-30.19zM332.07 118.4h30.19v9.11h-30.19zM166.03 127.51h15.09v9.11h-15.09zM332.07 127.51h15.09v9.11h-15.09zM150.94 136.62h15.09v9.11h-15.09zM362.26 136.62h15.09v9.11h-15.09zM135.85 145.73h15.09v9.11h-15.09zM362.26 145.73h30.19v9.11h-30.19zM135.85 154.84h15.09v9.11h-15.09zM362.26 154.84h30.19v9.11h-30.19zM135.85 163.94h15.09v9.11h-15.09zM362.26 163.94h30.19v9.11h-30.19zM150.94 173.05h15.09v9.11h-15.09zM347.16 173.05h15.09v9.11h-15.09zM166.03 182.16h15.09v9.11h-15.09zM347.16 182.16h15.09v9.11h-15.09zM181.13 191.27h15.09v9.11h-15.09zM332.07 191.27h15.09v9.11h-15.09zM196.22 200.38h135.85v9.11h-135.85z"/>
<path fill="#39bced" d="M181.13 118.4h150.94v9.11h-150.94zM181.13 127.51h150.94v9.11h-150.94zM166.03 136.62h15.09v9.11h-15.09zM332.07 136.62h30.19v9.11h-30.19zM150.94 145.73h30.19v9.11h-30.19zM332.07 145.73h30.19v9.11h-30.19zM150.94 154.84h30.19v9.11h-30.19zM332.07 154.84h30.19v9.11h-30.19zM150.94 163.94h30.19v9.11h-30.19zM332.07 163.94h30.19v9.11h-30.19zM166.03 173.05h15.09v9.11h-15.09zM332.07 173.05h15.09v9.11h-15.09zM181.13 182.16h15.09v9.11h-15.09zM332.07 182.16h15.09v9.11h-15.09zM196.22 191.27h135.85v9.11h-135.85z"/>
<path fill="#34b6ea" d="M181.13 136.62h30.19v9.11h-30.19zM301.88 136.62h30.19v9.11h-30.19zM181.13 145.73h15.09v9.11h-15.09zM316.97 145.73h15.09v9.11h-15.09zM181.13 163.94h15.09v9.11h-15.09zM316.97 163.94h15.09v9.11h-15.09zM181.13 173.05h30.19v9.11h-30.19zM301.88 173.05h30.19v9.11h-30.19zM196.22 182.16h135.85v9.11h-135.85z"/>
<path fill="#37a5e0" d="M211.32 136.62h90.56v9.11h-90.56zM196.22 145.73h120.75v9.11h-120.75zM181.13 154.84h150.94v9.11h-150.94zM196.22 163.94h120.75v9.11h-120.75zM211.32 173.05h90.56v9.11h-90.56z"/>
</g>
<path class="g" d="M15.09 0v273.24M30.19 0v273.24M45.28 0v273.24M60.38 0v273.24M75.47 0v273.24M90.56 0v273.24M105.66 0v273.24M120.75 0v273.24M135.85 0v273.24M150.94 0v273.24M166.03 0v273.24M181.13 0v273.24M196.22 0v273.24M211.32 0v273.24M226.41 0v273.24M241.5 0v273.24M256.6 0v273.24M271.69 0v273.24M286.79 0v273.24M301.88 0v273.24M316.97 0v273.24M332.07 0v273.24M347.16 0v273.24M362.26 0v273.24M377.35 0v273.24M392.44 0v273.24M407.54 0v273.24M422.63 0v273.24M437.73 0v273.24M452.82 0v273.24M467.91 0v273.24M483.01 0v273.24M498.1 0v273.24M0 9.11h513.2M0 18.22h513.2M0 27.32h513.2M0 36.43h513.2M0 45.54h513.2M0 54.65h513.2M0 63.76h513.2M0 72.86h513.2M0 81.97h513.2M0 91.08h513.2M0 100.19h513.2M0 109.3h513.2M0 118.4h513.2M0 127.51h513.2M0 136.62h513.2M0 145.73h513.2M0 154.84h513.2M0 163.94h513.2M0 173.05h513.2M0 182.16h513.2M0 191.27h513.2M0 200.38h513.2M0 209.48h513.2M0 218.59h513.2M0 227.7h513.2M0 236.81h513.2M0 245.92h513.2M0 255.02h513.2M0 264.13h513.2"/>
<rect class="b" x="181.13" y="63.76" width="150.94" height="136.62"/>
<rect class="a" x="0" y="0" width="513.2" height="273.24"/>
</g>
<text class="t" x="82.9" y="793.3" text-anchor="end">0</text>
<text class="t" x="82.9" y="838.84" text-anchor="end">-50</text>
<text class="t" x="82.9" y="884.38" text-anchor="end">-100</text>
<text class="t" x="82.9" y="929.92" text-anchor="end">-150</text>
<text class="t" x="82.9" y="975.46" text-anchor="end">-200</text>
<text class="t" x="82.9" y="1021" text-anchor="end">-250</text>
<text class="t" x="82.9" y="1066.54" text-anchor="end">-300</text>
<text class="t" x="116.09" y="1074.44" text-anchor="middle">-150</text>
<text class="t" x="191.56" y="1074.44" text-anchor="middle">-100</text>
<text class="t" x="267.03" y="1074.44" text-anchor="middle">-50</text>
<text class="t" x="342.5" y="1074.44" text-anchor="middle">0</text>
<text class="t" x="417.97" y="1074.44" text-anchor="middle">50</text>
<text class="t" x="493.44" y="1074.44" text-anchor="middle">100</text>
<text class="t" x="568.91" y="1074.44" text-anchor="middle">150</text>
<text class="l" x="342.1" y="1088.84" text-anchor="middle">Distance (m)</text>
<text class="l" transform="translate(62,926.9) rotate(-90)" text-anchor="middle">Depth (m)</text>
<rect x="603.3" y="790" width="9.6" height="5.07" fill="#6f1113"/>
<rect x="603.3" y="794.27" width="9.6" height="5.07" fill="#791517"/>
<rect x="603.3" y="798.54" width="9.6" height="5.07" fill="#8f191e"/>
<rect x="603.3" y="802.81" width="9.6" height="5.07" fill="#a91e26"/>
<rect x="603.3" y="807.08" width="9.6" height="5.07" fill="#ba1e2a"/>
<rect x="603.3" y="811.35" width="9.6" height="5.07" fill="#cb1e2d"/>
<rect x="603.3" y="815.62" width="9.6" height="5.07" fill="#dd1f2c"/>
<rect x="603.3" y="819.89" width="9.6" height="5.07" fill="#e8202c"/>
<rect x="603.3" y="824.15" width="9.6" height="5.07" fill="#e8212b"/>
<rect x="603.3" y="828.42" width="9.6" height="5.07" fill="#e8212b"/>
<rect x="603.3" y="832.69" width="9.6" height="5.07" fill="#e82429"/>
<rect x="603.3" y="836.96" width="9.6" height="5.07" fill="#ea3327"/>
<rect x="603.3" y="841.23" width="9.6" height="5.07" fill="#ec4626"/>
<rect x="603.3" y="845.5" width="9.6" height="5.07" fill="#ee5824"/>
<rect x="603.3" y="849.77" width="9.6" height="5.07" fill="#f06723"/>
<rect x="603.3" y="854.04" width="9.6" height="5.07" fill="#f17222"/>
<rect x="603.3" y="858.31" width="9.6" height="5.07" fill="#f38020"/>
<rect x="603.3" y="862.58" width="9.6" height="5.07" fill="#f5911e"/>
<rect x="603.3" y="866.85" width="9.6" height="5.07" fill="#f7a01a"/>
<rect x="603.3" y="871.12" width="9.6" height="5.07" fill="#faae13"/>
<rect x="603.3" y="875.39" width="9.6" height="5.07" fill="#fdbc0d"/>
<rect x="603.3" y="879.66" width="9.6" height="5.07" fill="#ffca08"/>
<rect x="603.3" y="883.93" width="9.6" height="5.07" fill="#fdd806"/>
<rect x="603.3" y="888.2" width="9.6" height="5.07" fill="#fae308"/>
<rect x="603.3" y="892.47" width="9.6" height="5.07" fill="#f7e911"/>
<rect x="603.3" y="896.73" width="9.6" height="5.07" fill="#eee81b"/>
<rect x="603.3" y="901" width="9.6" height="5.07" fill="#e3e226"/>
<rect x="603.3" y="905.27" width="9.6" height="5.07" fill="#d3da2d"/>
<rect x="603.3" y="909.54" width="9.6" height="5.07" fill="#c2d232"/>
<rect x="603.3" y="913.81" width="9.6" height="5.07" fill="#b4cf38"/>
<rect x="603.3" y="918.08" width="9.6" height="5.07" fill="#a7cc42"/>
<rect x="603.3" y="922.35" width="9.6" height="5.07" fill="#9cc959"/>
<rect x="603.3" y="926.62" width="9.6" height="5.07" fill="#90c76b"/>
<rect x="603.3" y="930.89" width="9.6" height="5.07" fill="#85c479"/>
<rect x="603.3" y="935.16" width="9.6" height="5.07" fill="#7dc285"/>
<rect x="603.3" y="939.43" width="9.6" height="5.07" fill="#76c090"/>
<rect x="603.3" y="943.7" width="9.6" height="5.07" fill="#73c29f"/>
<rect x="603.3" y="947.97" width="9.6" height="5.07" fill="#70c3af"/>
<rect x="603.3" y="952.24" width="9.6" height="5.07" fill="#6dc5be"/>
<rect x="603.3" y="956.51" width="9.6" height="5.07" fill="#69c7cf"/>
<rect x="603.3" y="960.77" width="9.6" height="5.07" fill="#64c9e1"/>
<rect x="603.3" y="965.04" width="9.6" height="5.07" fill="#56c6e7"/>
<rect x="603.3" y="969.31" width="9.6" height="5.07" fill="#42c1ed"/>
<rect x="603.3" y="973.58" width="9.6" height="5.07" fill="#39bced"/>
<rect x="603.3" y="977.85" width="9.6" height="5.07" fill="#34b6ea"/>
<rect x="603.3" y="982.12" width="9.6" height="5.07" fill="#37a5e0"/>
<rect x="603.3" y="986.39" width="9.6" height="5.07" fill="#3993d4"/>
<rect x="603.3" y="990.66" width="9.6" height="5.07" fill="#3881c5"/>
<rect x="603.3" y="994.93" width="9.6" height="5.07" fill="#3774bb"/>
<rect x="603.3" y="999.2" width="9.6" height="5.07" fill="#376bb6"/>
<rect x="603.3" y="1003.47" width="9.6" height="5.07" fill="#3565b1"/>
<rect x="603.3" y="1007.74" width="9.6" height="5.07" fill="#325fad"/>
<rect x="603.3" y="1012.01" width="9.6" height="5.07" fill="#2f5aa9"/>
<rect x="603.3" y="1016.28" width="9.6" height="5.07" fill="#2d55a5"/>
<rect x="603.3" y="1020.55" width="9.6" height="5.07" fill="#2b52a3"/>
<rect x="603.3" y="1024.82" width="9.6" height="5.07" fill="#294fa2"/>
<rect x="603.3" y="1029.09" width="9.6" height="5.07" fill="#274ca1"/>
<rect x="603.3" y="1033.35" width="9.6" height="5.07" fill="#26499d"/>
<rect x="603.3" y="1037.62" width="9.6" height="5.07" fill="#264599"/>
<rect x="603.3" y="1041.89" width="9.6" height="5.07" fill="#264195"/>
<rect x="603.3" y="1046.16" width="9.6" height="5.07" fill="#263e90"/>
<rect x="603.3" y="1050.43" width="9.6" height="5.07" fill="#283885"/>
<rect x="603.3" y="1054.7" width="9.6" height="5.07" fill="#2a327b"/>
<rect x="603.3" y="1058.97" width="9.6" height="4.27" fill="#2b2d71"/>
<text class="t u" x="615.6" y="1065.84">1</text>
<path class="g" d="M612.9 1032.88h-2.6"/>
<text class="t u" x="615.6" y="1035.78">2</text>
<path class="g" d="M612.9 1002.52h-2.6"/>
<text class="t u" x="615.6" y="1005.42">3</text>
<path class="g" d="M612.9 972.16h-2.6"/>
<text class="t u" x="615.6" y="975.06">4</text>
<path class="g" d="M612.9 941.8h-2.6"/>
<text class="t u" x="615.6" y="944.7">5</text>
<path class="g" d="M612.9 911.44h-2.6"/>
<text class="t u" x="615.6" y="914.34">6</text>
<path class="g" d="M612.9 881.08h-2.6"/>
<text class="t u" x="615.6" y="883.98">7</text>
<path class="g" d="M612.9 850.72h-2.6"/>
<text class="t u" x="615.6" y="853.62">8</text>
<path class="g" d="M612.9 820.36h-2.6"/>
<text class="t u" x="615.6" y="823.26">9</text>
<text class="t u" x="615.6" y="793.6">10</text>
<text class="l" transform="translate(638.2,926.3) rotate(-90)" text-anchor="middle">Resistivity (Ohm.m)</text>
<g transform="translate(85.5,1169.8)">
<g shape-rendering="crispEdges">
<path fill="#8f191e" d="M0 0h60.38v9.11h-60.38zM483.01 0h15.09v9.11h-15.09zM45.28 9.11h15.09v9.11h-15.09zM45.28 18.22h15.09v9.11h-15.09zM332.07 18.22h15.09v9.11h-15.09zM498.1 27.32h15.09v9.11h-15.09zM30.19 36.43h15.09v9.11h-15.09zM0 45.54h45.28v9.11h-45.28zM60.38 45.54h30.19v9.11h-30.19zM392.44 45.54h15.09v9.11h-15.09zM0 54.65h45.28v9.11h-45.28zM407.54 54.65h15.09v9.11h-15.09zM15.09 63.76h15.09v9.11h-15.09zM0 81.97h15.09v9.11h-15.09zM467.91 118.4h15.09v9.11h-15.09zM467.91 127.51h15.09v9.11h-15.09zM483.01 163.94h15.09v9.11h-15.09zM483.01 173.05h15.09v9.11h-15.09zM498.1 200.38h15.09v9.11h-15.09zM498.1 209.48h15.09v9.11h-15.09z"/>
<path fill="#6f1113" d="M60.38 0h407.54v9.11h-407.54zM60.38 9.11h226.41v9.11h-226.41zM332.07 9.11h135.85v9.11h-135.85zM60.38 18.22h105.66v9.11h-105.66zM347.16 18.22h135.85v9.11h-135.85zM60.38 27.32h75.47v9.11h-75.47zM362.26 27.32h135.85v9.11h-135.85zM60.38 36.43h45.28v9.11h-45.28zM392.44 36.43h120.75v9.11h-120.75zM407.54 45.54h105.66v9.11h-105.66zM422.63 54.65h90.56v9.11h-90.56zM437.73 63.76h75.47v9.11h-75.47zM437.73 72.86h75.47v9.11h-75.47zM452.82 81.97h60.38v9.11h-60.38zM467.91 91.08h45.28v9.11h-45.28zM467.91 100.19h45.28v9.11h-45.28zM467.91 109.3h45.28v9.11h-45.28zM483.01 118.4h30.19v9.11h-30.19zM483.01 127.51h30.19v9.11h-30.19zM483.01 136.62h30.19v9.11h-30.19zM483.01 145.73h30.19v9.11h-30.19zM498.1 154.84h15.09v9.11h-15.09zM498.1 163.94h15.09v9.11h-15.09zM498.1 173.05h15.09v9.11h-15.09zM498.1 182.16h15.09v9.11h-15.09z"/>
<path fill="#791517" d="M467.91 0h15.09v9.11h-15.09zM286.79 9.11h45.28v9.11h-45.28zM467.91 9.11h15.09v9.11h-15.09zM166.03 18.22h15.09v9.11h-15.09zM45.28 27.32h15.09v9.11h-15.09zM135.85 27.32h15.09v9.11h-15.09zM45.28 36.43h15.09v9.11h-15.09zM105.66 36.43h15.09v9.11h-15.09zM377.35 36.43h15.09v9.11h-15.09zM45.28 45.54h15.09v9.11h-15.09zM0 63.76h15.09v9.11h-15.09zM422.63 63.76h15.09v9.11h-15.09zM0 72.86h15.09v9.11h-15.09zM437.73 81.97h15.09v9.11h-15.09zM452.82 91.08h15.09v9.11h-15.09zM483.01 154.84h15.09v9.11h-15.09zM498.1 191.27h15.09v9.11h-15.09z"/>
<path fill="#a91e26" d="M498.1 0h15.09v9.11h-15.09zM30.19 18.22h15.09v9.11h-15.09zM483.01 18.22h15.09v9.11h-15.09zM15.09 27.32h30.19v9.11h-30.19zM150.94 27.32h15.09v9.11h-15.09zM0 36.43h30.19v9.11h-30.19zM120.75 36.43h15.09v9.11h-15.09zM422.63 72.86h15.09v9.11h-15.09zM452.82 100.19h15.09v9.11h-15.09zM452.82 109.3h15.09v9.11h-15.09zM483.01 182.16h15.09v9.11h-15.09zM498.1 218.59h15.09v9.11h-15.09zM498.1 227.7h15.09v9.11h-15.09z"/>
<path fill="#cb1e2d" d="M0 9.11h15.09v9.11h-15.09zM498.1 9.11h15.09v9.11h-15.09zM0 18.22h15.09v9.11h-15.09zM196.22 18.22h15.09v9.11h-15.09zM135.85 36.43h15.09v9.11h-15.09zM377.35 45.54h15.09v9.11h-15.09zM392.44 54.65h15.09v9.11h-15.09zM407.54 63.76h15.09v9.11h-15.09zM437.73 91.08h15.09v9.11h-15.09zM467.91 163.94h15.09v9.11h-15.09zM467.91 173.05h15.09v9.11h-15.09zM483.01 227.7h15.09v9.11h-15.09zM483.01 236.81h15.09v9.11h-15.09zM483.01 245.92h15.09v9.11h-15.09zM483.01 255.02h15.09v9.11h-15.09zM483.01 264.13h15.09v9.11h-15.09z"/>
<path fill="#ba1e2a" d="M15.09 9.11h30.19v9.11h-30.19zM483.01 9.11h15.09v9.11h-15.09zM15.09 18.22h15.09v9.11h-15.09zM181.13 18.22h15.09v9.11h-15.09zM316.97 18.22h15.09v9.11h-15.09zM498.1 18.22h15.09v9.11h-15.09zM0 27.32h15.09v9.11h-15.09zM347.16 27.32h15.09v9.11h-15.09zM362.26 36.43h15.09v9.11h-15.09zM90.56 45.54h15.09v9.11h-15.09zM45.28 54.65h30.19v9.11h-30.19zM30.19 63.76h15.09v9.11h-15.09zM15.09 72.86h15.09v9.11h-15.09zM0 91.08h15.09v9.11h-15.09zM467.91 136.62h15.09v9.11h-15.09zM467.91 145.73h15.09v9.11h-15.09zM467.91 154.84h15.09v9.11h-15.09zM483.01 191.27h15.09v9.11h-15.09zM483.01 200.38h15.09v9.11h-15.09zM483.01 209.48h15.09v9.11h-15.09zM483.01 218.59h15.09v9.11h-15.09zM498.1 236.81h15.09v9.11h-15.09zM498.1 245.92h15.09v9.11h-15.09zM498.1 255.02h15.09v9.11h-15.09zM498.1 264.13h15.09v9.11h-15.09z"/>
<path fill="#e8202c" d="M211.32 18.22h90.56v9.11h-90.56zM166.03 27.32h15.09v9.11h-15.09zM332.07 27.32h15.09v9.11h-15.09zM105.66 45.54h15.09v9.11h-15.09zM75.47 54.65h15.09v9.11h-15.09zM60.38 63.76h15.09v9.11h-15.09zM45.28 72.86h15.09v9.11h-15.09zM30.19 81.97h15.09v9.11h-15.09zM422.63 81.97h15.09v9.11h-15.09zM15.09 91.08h15.09v9.11h-15.09zM437.73 100.19h15.09v9.11h-15.09zM0 109.3h15.09v9.11h-15.09zM437.73 109.3h15.09v9.11h-15.09zM452.82 127.51h15.09v9.11h-15.09zM452.82 136.62h15.09v9.11h-15.09zM452.82 145.73h15.09v9.11h-15.09zM452.82 154.84h15.09v9.11h-15.09zM452.82 163.94h15.09v9.11h-15.09zM452.82 173.05h15.09v9.11h-15.09zM467.91 200.38h15.09v9.11h-15.09zM467.91 209.48h15.09v9.11h-15.09zM467.91 218.59h15.09v9.11h-15.09zM467.91 227.7h15.09v9.11h-15.09zM452.82 236.81h30.19v9.11h-30.19zM452.82 245.92h30.19v9.11h-30.19zM452.82 255.02h30.19v9.11h-30.19zM0 264.13h15.09v9.11h-15.09zM437.73 264.13h30.19v9.11h-30.19z"/>
<path fill="#dd1f2c" d="M301.88 18.22h15.09v9.11h-15.09zM45.28 63.76h15.09v9.11h-15.09zM30.19 72.86h15.09v9.11h-15.09zM15.09 81.97h15.09v9.11h-15.09zM0 100.19h15.09v9.11h-15.09zM452.82 118.4h15.09v9.11h-15.09zM467.91 182.16h15.09v9.11h-15.09zM467.91 191.27h15.09v9.11h-15.09zM467.91 264.13h15.09v9.11h-15.09z"/>
<path fill="#e8212b" d="M181.13 27.32h15.09v9.11h-15.09zM316.97 27.32h15.09v9.11h-15.09zM150.94 36.43h15.09v9.11h-15.09zM347.16 36.43h15.09v9.11h-15.09zM120.75 45.54h15.09v9.11h-15.09zM362.26 45.54h15.09v9.11h-15.09zM90.56 54.65h15.09v9.11h-15.09zM377.35 54.65h15.09v9.11h-15.09zM75.47 63.76h15.09v9.11h-15.09zM392.44 63.76h15.09v9.11h-15.09zM60.38 72.86h15.09v9.11h-15.09zM407.54 72.86h15.09v9.11h-15.09zM45.28 81.97h15.09v9.11h-15.09zM30.19 91.08h15.09v9.11h-15.09zM422.63 91.08h15.09v9.11h-15.09zM15.09 100.19h15.09v9.11h-15.09zM15.09 109.3h15.09v9.11h-15.09zM0 118.4h15.09v9.11h-15.09zM437.73 118.4h15.09v9.11h-15.09zM0 127.51h15.09v9.11h-15.09zM452.82 182.16h15.09v9.11h-15.09zM452.82 191.27h15.09v9.11h-15.09zM452.82 200.38h15.09v9.11h-15.09zM452.82 209.48h15.09v9.11h-15.09zM452.82 218.59h15.09v9.11h-15.09zM452.82 227.7h15.09v9.11h-15.09zM437.73 236.81h15.09v9.11h-15.09zM0 245.92h15.09v9.11h-15.09zM437.73 245.92h15.09v9.11h-15.09zM0 255.02h15.09v9.11h-15.09zM437.73 255.02h15.09v9.11h-15.09zM422.63 264.13h15.09v9.11h-15.09z"/>
<path fill="#ec4626" d="M196.22 27.32h15.09v9.11h-15.09zM301.88 27.32h15.09v9.11h-15.09zM166.03 36.43h15.09v9.11h-15.09zM135.85 45.54h15.09v9.11h-15.09zM90.56 63.76h15.09v9.11h-15.09zM75.47 72.86h15.09v9.11h-15.09zM407.54 81.97h15.09v9.11h-15.09zM45.28 91.08h15.09v9.11h-15.09zM15.09 118.4h15.09v9.11h-15.09zM437.73 136.62h15.09v9.11h-15.09zM437.73 145.73h15.09v9.11h-15.09zM437.73 154.84h15.09v9.11h-15.09zM437.73 163.94h15.09v9.11h-15.09zM437.73 173.05h15.09v9.11h-15.09zM437.73 182.16h15.09v9.11h-15.09zM437.73 191.27h15.09v9.11h-15.09zM437.73 200.38h15.09v9.11h-15.09zM15.09 227.7h15.09v9.11h-15.09zM15.09 236.81h15.09v9.11h-15.09zM422.63 236.81h15.09v9.11h-15.09zM15.09 245.92h15.09v9.11h-15.09zM407.54 255.02h15.09v9.11h-15.09zM30.19 264.13h15.09v9.11h-15.09z"/>
<path fill="#f06723" d="M211.32 27.32h15.09v9.11h-15.09zM286.79 27.32h15.09v9.11h-15.09zM347.16 45.54h15.09v9.11h-15.09zM120.75 54.65h15.09v9.11h-15.09zM392.44 72.86h15.09v9.11h-15.09zM407.54 91.08h15.09v9.11h-15.09zM30.19 109.3h15.09v9.11h-15.09zM422.63 118.4h15.09v9.11h-15.09zM15.09 127.51h15.09v9.11h-15.09zM15.09 136.62h15.09v9.11h-15.09zM15.09 145.73h15.09v9.11h-15.09zM15.09 154.84h15.09v9.11h-15.09zM15.09 163.94h15.09v9.11h-15.09zM15.09 173.05h15.09v9.11h-15.09zM15.09 182.16h15.09v9.11h-15.09zM15.09 191.27h15.09v9.11h-15.09zM15.09 200.38h15.09v9.11h-15.09zM422.63 209.48h15.09v9.11h-15.09zM422.63 218.59h15.09v9.11h-15.09zM30.19 227.7h15.09v9.11h-15.09zM30.19 236.81h15.09v9.11h-15.09zM30.19 245.92h15.09v9.11h-15.09zM407.54 245.92h15.09v9.11h-15.09zM45.28 255.02h15.09v9.11h-15.09zM392.44 255.02h15.09v9.11h-15.09zM45.28 264.13h15.09v9.11h-15.09zM377.35 264.13h15.09v9.11h-15.09z"/>
<path fill="#f17222" d="M226.41 27.32h15.09v9.11h-15.09zM256.6 27.32h30.19v9.11h-30.19zM181.13 36.43h15.09v9.11h-15.09zM150.94 45.54h15.09v9.11h-15.09zM362.26 54.65h15.09v9.11h-15.09zM45.28 100.19h15.09v9.11h-15.09zM422.63 200.38h15.09v9.11h-15.09zM30.19 218.59h15.09v9.11h-15.09zM407.54 236.81h15.09v9.11h-15.09zM60.38 264.13h15.09v9.11h-15.09z"/>
<path fill="#f38020" d="M241.5 27.32h15.09v9.11h-15.09zM105.66 63.76h15.09v9.11h-15.09zM377.35 63.76h15.09v9.11h-15.09zM90.56 72.86h15.09v9.11h-15.09zM60.38 91.08h15.09v9.11h-15.09zM30.19 118.4h15.09v9.11h-15.09zM422.63 127.51h15.09v9.11h-15.09zM422.63 163.94h15.09v9.11h-15.09zM422.63 173.05h15.09v9.11h-15.09zM422.63 182.16h15.09v9.11h-15.09zM422.63 191.27h15.09v9.11h-15.09zM30.19 209.48h15.09v9.11h-15.09zM407.54 227.7h15.09v9.11h-15.09zM45.28 245.92h15.09v9.11h-15.09zM392.44 245.92h15.09v9.11h-15.09zM60.38 255.02h15.09v9.11h-15.09zM377.35 255.02h15.09v9.11h-15.09zM362.26 264.13h15.09v9.11h-15.09z"/>
<path fill="#f7a01a" d="M196.22 36.43h15.09v9.11h-15.09zM135.85 54.65h15.09v9.11h-15.09zM392.44 81.97h15.09v9.11h-15.09zM45.28 109.3h15.09v9.11h-15.09zM30.19 136.62h15.09v9.11h-15.09zM30.19 145.73h15.09v9.11h-15.09zM30.19 154.84h15.09v9.11h-15.09zM30.19 163.94h15.09v9.11h-15.09zM45.28 200.38h15.09v9.11h-15.09zM407.54 209.48h15.09v9.11h-15.09zM45.28 218.59h15.09v9.11h-15.09zM377.35 245.92h15.09v9.11h-15.09zM75.47 255.02h15.09v9.11h-15.09zM362.26 255.02h15.09v9.11h-15.09zM90.56 264.13h15.09v9.11h-15.09zM347.16 264.13h15.09v9.11h-15.09z"/>
<path fill="#ffca08" d="M211.32 36.43h15.09v9.11h-15.09zM105.66 72.86h15.09v9.11h-15.09zM377.35 72.86h15.09v9.11h-15.09zM90.56 81.97h15.09v9.11h-15.09zM407.54 127.51h15.09v9.11h-15.09zM45.28 136.62h15.09v9.11h-15.09zM45.28 145.73h15.09v9.11h-15.09zM407.54 154.84h15.09v9.11h-15.09zM407.54 163.94h15.09v9.11h-15.09zM60.38 191.27h15.09v9.11h-15.09zM60.38 209.48h15.09v9.11h-15.09zM392.44 209.48h15.09v9.11h-15.09zM60.38 218.59h15.09v9.11h-15.09zM377.35 227.7h15.09v9.11h-15.09zM75.47 236.81h15.09v9.11h-15.09zM105.66 255.02h15.09v9.11h-15.09zM332.07 255.02h15.09v9.11h-15.09zM120.75 264.13h15.09v9.11h-15.09zM316.97 264.13h15.09v9.11h-15.09z"/>
<path fill="#fae308" d="M226.41 36.43h15.09v9.11h-15.09zM271.69 36.43h15.09v9.11h-15.09zM181.13 45.54h15.09v9.11h-15.09zM377.35 81.97h15.09v9.11h-15.09zM75.47 100.19h15.09v9.11h-15.09zM60.38 118.4h15.09v9.11h-15.09zM60.38 127.51h15.09v9.11h-15.09zM60.38 154.84h15.09v9.11h-15.09zM60.38 163.94h15.09v9.11h-15.09zM75.47 191.27h15.09v9.11h-15.09zM392.44 191.27h15.09v9.11h-15.09zM75.47 200.38h15.09v9.11h-15.09zM75.47 218.59h15.09v9.11h-15.09zM362.26 227.7h15.09v9.11h-15.09zM90.56 236.81h15.09v9.11h-15.09zM347.16 236.81h15.09v9.11h-15.09zM105.66 245.92h15.09v9.11h-15.09zM332.07 245.92h15.09v9.11h-15.09zM135.85 255.02h15.09v9.11h-15.09zM316.97 255.02h15.09v9.11h-15.09zM150.94 264.13h135.85v9.11h-135.85z"/>
<path fill="#f7e911" d="M241.5 36.43h30.19v9.11h-30.19zM316.97 45.54h15.09v9.11h-15.09zM332.07 54.65h15.09v9.11h-15.09zM135.85 63.76h15.09v9.11h-15.09zM120.75 72.86h15.09v9.11h-15.09zM362.26 72.86h15.09v9.11h-15.09zM105.66 81.97h15.09v9.11h-15.09zM90.56 91.08h15.09v9.11h-15.09zM392.44 109.3h15.09v9.11h-15.09zM392.44 118.4h15.09v9.11h-15.09zM60.38 136.62h15.09v9.11h-15.09zM60.38 145.73h15.09v9.11h-15.09zM392.44 163.94h15.09v9.11h-15.09zM75.47 173.05h15.09v9.11h-15.09zM392.44 173.05h15.09v9.11h-15.09zM75.47 182.16h15.09v9.11h-15.09zM392.44 182.16h15.09v9.11h-15.09zM377.35 200.38h15.09v9.11h-15.09zM75.47 209.48h15.09v9.11h-15.09zM377.35 209.48h15.09v9.11h-15.09zM362.26 218.59h15.09v9.11h-15.09zM90.56 227.7h15.09v9.11h-15.09zM105.66 236.81h15.09v9.11h-15.09zM120.75 245.92h15.09v9.11h-15.09zM316.97 245.92h15.09v9.11h-15.09zM150.94 255.02h30.19v9.11h-30.19zM271.69 255.02h45.28v9.11h-45.28z"/>
<path fill="#fdd806" d="M286.79 36.43h15.09v9.11h-15.09zM150.94 54.65h15.09v9.11h-15.09zM362.26 63.76h15.09v9.11h-15.09zM392.44 100.19h15.09v9.11h-15.09zM60.38 109.3h15.09v9.11h-15.09zM407.54 136.62h15.09v9.11h-15.09zM407.54 145.73h15.09v9.11h-15.09zM60.38 173.05h15.09v9.11h-15.09zM60.38 182.16h15.09v9.11h-15.09zM392.44 200.38h15.09v9.11h-15.09zM377.35 218.59h15.09v9.11h-15.09zM75.47 227.7h15.09v9.11h-15.09zM362.26 236.81h15.09v9.11h-15.09zM90.56 245.92h15.09v9.11h-15.09zM347.16 245.92h15.09v9.11h-15.09zM120.75 255.02h15.09v9.11h-15.09zM135.85 264.13h15.09v9.11h-15.09zM286.79 264.13h30.19v9.11h-30.19z"/>
<path fill="#fdbc0d" d="M301.88 36.43h15.09v9.11h-15.09zM347.16 54.65h15.09v9.11h-15.09zM120.75 63.76h15.09v9.11h-15.09zM75.47 91.08h15.09v9.11h-15.09zM392.44 91.08h15.09v9.11h-15.09zM407.54 118.4h15.09v9.11h-15.09zM45.28 154.84h15.09v9.11h-15.09zM45.28 163.94h15.09v9.11h-15.09zM407.54 173.05h15.09v9.11h-15.09zM407.54 182.16h15.09v9.11h-15.09zM60.38 200.38h15.09v9.11h-15.09zM392.44 218.59h15.09v9.11h-15.09zM60.38 227.7h15.09v9.11h-15.09zM362.26 245.92h15.09v9.11h-15.09zM347.16 255.02h15.09v9.11h-15.09z"/>
<path fill="#f5911e" d="M316.97 36.43h15.09v9.11h-15.09zM75.47 81.97h15.09v9.11h-15.09zM407.54 100.19h15.09v9.11h-15.09zM30.19 127.51h15.09v9.11h-15.09zM422.63 136.62h15.09v9.11h-15.09zM422.63 145.73h15.09v9.11h-15.09zM422.63 154.84h15.09v9.11h-15.09zM30.19 173.05h15.09v9.11h-15.09zM30.19 182.16h15.09v9.11h-15.09zM30.19 191.27h15.09v9.11h-15.09zM30.19 200.38h15.09v9.11h-15.09zM407.54 218.59h15.09v9.11h-15.09zM45.28 227.7h15.09v9.11h-15.09zM45.28 236.81h15.09v9.11h-15.09zM392.44 236.81h15.09v9.11h-15.09zM60.38 245.92h15.09v9.11h-15.09zM75.47 264.13h15.09v9.11h-15.09z"/>
<path fill="#ee5824" d="M332.07 36.43h15.09v9.11h-15.09zM60.38 81.97h15.09v9.11h-15.09zM422.63 109.3h15.09v9.11h-15.09zM15.09 209.48h15.09v9.11h-15.09zM15.09 218.59h15.09v9.11h-15.09zM422.63 227.7h15.09v9.11h-15.09zM30.19 255.02h15.09v9.11h-15.09zM392.44 264.13h15.09v9.11h-15.09z"/>
<path fill="#faae13" d="M166.03 45.54h15.09v9.11h-15.09zM332.07 45.54h15.09v9.11h-15.09zM60.38 100.19h15.09v9.11h-15.09zM407.54 109.3h15.09v9.11h-15.09zM45.28 118.4h15.09v9.11h-15.09zM45.28 127.51h15.09v9.11h-15.09zM45.28 173.05h15.09v9.11h-15.09zM45.28 182.16h15.09v9.11h-15.09zM45.28 191.27h15.09v9.11h-15.09zM407.54 191.27h15.09v9.11h-15.09zM407.54 200.38h15.09v9.11h-15.09zM45.28 209.48h15.09v9.11h-15.09zM392.44 227.7h15.09v9.11h-15.09zM60.38 236.81h15.09v9.11h-15.09zM377.35 236.81h15.09v9.11h-15.09zM75.47 245.92h15.09v9.11h-15.09zM90.56 255.02h15.09v9.11h-15.09zM105.66 264.13h15.09v9.11h-15.09zM332.07 264.13h15.09v9.11h-15.09z"/>
<path fill="#e3e226" d="M196.22 45.54h15.09v9.11h-15.09zM347.16 63.76h15.09v9.11h-15.09zM392.44 136.62h15.09v9.11h-15.09zM392.44 145.73h15.09v9.11h-15.09zM75.47 154.84h15.09v9.11h-15.09zM90.56 191.27h15.09v9.11h-15.09zM377.35 191.27h15.09v9.11h-15.09zM90.56 209.48h15.09v9.11h-15.09zM362.26 209.48h15.09v9.11h-15.09zM105.66 227.7h15.09v9.11h-15.09zM120.75 236.81h15.09v9.11h-15.09zM316.97 236.81h15.09v9.11h-15.09zM150.94 245.92h30.19v9.11h-30.19zM271.69 245.92h30.19v9.11h-30.19z"/>
<path fill="#c2d232" d="M211.32 45.54h15.09v9.11h-15.09zM286.79 45.54h15.09v9.11h-15.09zM150.94 63.76h15.09v9.11h-15.09zM135.85 72.86h15.09v9.11h-15.09zM120.75 81.97h15.09v9.11h-15.09zM377.35 109.3h15.09v9.11h-15.09zM90.56 163.94h15.09v9.11h-15.09zM377.35 163.94h15.09v9.11h-15.09zM105.66 191.27h15.09v9.11h-15.09zM105.66 209.48h15.09v9.11h-15.09zM347.16 209.48h15.09v9.11h-15.09zM332.07 218.59h15.09v9.11h-15.09zM135.85 227.7h15.09v9.11h-15.09zM316.97 227.7h15.09v9.11h-15.09zM166.03 236.81h135.85v9.11h-135.85z"/>
<path fill="#b4cf38" d="M226.41 45.54h15.09v9.11h-15.09zM256.6 45.54h30.19v9.11h-30.19zM181.13 54.65h15.09v9.11h-15.09zM316.97 54.65h15.09v9.11h-15.09zM332.07 63.76h15.09v9.11h-15.09zM347.16 72.86h15.09v9.11h-15.09zM362.26 91.08h15.09v9.11h-15.09zM90.56 109.3h15.09v9.11h-15.09zM377.35 118.4h15.09v9.11h-15.09zM377.35 127.51h15.09v9.11h-15.09zM377.35 136.62h15.09v9.11h-15.09zM90.56 145.73h15.09v9.11h-15.09zM377.35 145.73h15.09v9.11h-15.09zM90.56 154.84h15.09v9.11h-15.09zM377.35 154.84h15.09v9.11h-15.09zM105.66 182.16h15.09v9.11h-15.09zM362.26 182.16h15.09v9.11h-15.09zM362.26 191.27h15.09v9.11h-15.09zM120.75 200.38h15.09v9.11h-15.09zM347.16 200.38h15.09v9.11h-15.09zM120.75 209.48h15.09v9.11h-15.09zM332.07 209.48h15.09v9.11h-15.09zM120.75 218.59h30.19v9.11h-30.19zM316.97 218.59h15.09v9.11h-15.09zM150.94 227.7h30.19v9.11h-30.19zM286.79 227.7h30.19v9.11h-30.19z"/>
<path fill="#a7cc42" d="M241.5 45.54h15.09v9.11h-15.09zM135.85 81.97h15.09v9.11h-15.09zM105.66 100.19h15.09v9.11h-15.09zM90.56 118.4h15.09v9.11h-15.09zM90.56 127.51h15.09v9.11h-15.09zM90.56 136.62h15.09v9.11h-15.09zM105.66 173.05h15.09v9.11h-15.09zM120.75 191.27h15.09v9.11h-15.09zM135.85 200.38h15.09v9.11h-15.09zM150.94 218.59h15.09v9.11h-15.09zM181.13 227.7h105.66v9.11h-105.66z"/>
<path fill="#d3da2d" d="M301.88 45.54h15.09v9.11h-15.09zM166.03 54.65h15.09v9.11h-15.09zM362.26 81.97h15.09v9.11h-15.09zM105.66 91.08h15.09v9.11h-15.09zM90.56 100.19h15.09v9.11h-15.09zM377.35 100.19h15.09v9.11h-15.09zM75.47 118.4h15.09v9.11h-15.09zM75.47 127.51h15.09v9.11h-15.09zM75.47 136.62h15.09v9.11h-15.09zM75.47 145.73h15.09v9.11h-15.09zM90.56 173.05h15.09v9.11h-15.09zM377.35 173.05h15.09v9.11h-15.09zM90.56 182.16h15.09v9.11h-15.09zM377.35 182.16h15.09v9.11h-15.09zM105.66 200.38h15.09v9.11h-15.09zM362.26 200.38h15.09v9.11h-15.09zM105.66 218.59h15.09v9.11h-15.09zM347.16 218.59h15.09v9.11h-15.09zM120.75 227.7h15.09v9.11h-15.09zM332.07 227.7h15.09v9.11h-15.09zM135.85 236.81h30.19v9.11h-30.19zM301.88 236.81h15.09v9.11h-15.09zM181.13 245.92h90.56v9.11h-90.56z"/>
<path fill="#ea3327" d="M105.66 54.65h15.09v9.11h-15.09zM30.19 100.19h15.09v9.11h-15.09zM422.63 100.19h15.09v9.11h-15.09zM0 145.73h15.09v9.11h-15.09zM0 154.84h15.09v9.11h-15.09zM0 163.94h15.09v9.11h-15.09zM0 173.05h15.09v9.11h-15.09zM0 182.16h15.09v9.11h-15.09zM0 191.27h15.09v9.11h-15.09zM0 200.38h15.09v9.11h-15.09zM0 209.48h15.09v9.11h-15.09zM437.73 209.48h15.09v9.11h-15.09zM0 218.59h15.09v9.11h-15.09zM437.73 218.59h15.09v9.11h-15.09zM422.63 245.92h15.09v9.11h-15.09zM15.09 255.02h15.09v9.11h-15.09zM407.54 264.13h15.09v9.11h-15.09z"/>
<path fill="#90c76b" d="M196.22 54.65h15.09v9.11h-15.09zM105.66 109.3h15.09v9.11h-15.09zM362.26 109.3h15.09v9.11h-15.09zM105.66 145.73h15.09v9.11h-15.09zM362.26 154.84h15.09v9.11h-15.09zM120.75 173.05h15.09v9.11h-15.09zM135.85 182.16h15.09v9.11h-15.09zM347.16 182.16h15.09v9.11h-15.09zM316.97 200.38h15.09v9.11h-15.09zM166.03 209.48h15.09v9.11h-15.09zM301.88 209.48h15.09v9.11h-15.09zM196.22 218.59h90.56v9.11h-90.56z"/>
<path fill="#7dc285" d="M211.32 54.65h15.09v9.11h-15.09zM286.79 54.65h15.09v9.11h-15.09zM316.97 63.76h15.09v9.11h-15.09zM150.94 81.97h15.09v9.11h-15.09zM135.85 91.08h15.09v9.11h-15.09zM347.16 91.08h15.09v9.11h-15.09zM120.75 100.19h15.09v9.11h-15.09zM105.66 118.4h15.09v9.11h-15.09zM105.66 127.51h15.09v9.11h-15.09zM362.26 127.51h15.09v9.11h-15.09zM362.26 136.62h15.09v9.11h-15.09zM120.75 154.84h15.09v9.11h-15.09zM120.75 163.94h15.09v9.11h-15.09zM347.16 163.94h15.09v9.11h-15.09zM135.85 173.05h15.09v9.11h-15.09zM347.16 173.05h15.09v9.11h-15.09zM150.94 182.16h15.09v9.11h-15.09zM332.07 182.16h15.09v9.11h-15.09zM166.03 191.27h15.09v9.11h-15.09zM181.13 200.38h15.09v9.11h-15.09zM301.88 200.38h15.09v9.11h-15.09zM196.22 209.48h90.56v9.11h-90.56z"/>
<path fill="#73c29f" d="M226.41 54.65h15.09v9.11h-15.09zM256.6 54.65h30.19v9.11h-30.19zM301.88 63.76h15.09v9.11h-15.09zM316.97 72.86h15.09v9.11h-15.09zM332.07 81.97h15.09v9.11h-15.09zM120.75 109.3h15.09v9.11h-15.09zM347.16 109.3h15.09v9.11h-15.09zM120.75 127.51h15.09v9.11h-15.09zM120.75 136.62h15.09v9.11h-15.09zM347.16 145.73h15.09v9.11h-15.09zM347.16 154.84h15.09v9.11h-15.09zM150.94 173.05h15.09v9.11h-15.09zM332.07 173.05h15.09v9.11h-15.09zM166.03 182.16h15.09v9.11h-15.09zM316.97 182.16h15.09v9.11h-15.09zM181.13 191.27h15.09v9.11h-15.09zM301.88 191.27h15.09v9.11h-15.09zM196.22 200.38h75.47v9.11h-75.47z"/>
<path fill="#70c3af" d="M241.5 54.65h15.09v9.11h-15.09zM135.85 100.19h15.09v9.11h-15.09zM120.75 118.4h15.09v9.11h-15.09zM347.16 118.4h15.09v9.11h-15.09zM347.16 136.62h15.09v9.11h-15.09zM135.85 154.84h15.09v9.11h-15.09zM150.94 163.94h15.09v9.11h-15.09zM332.07 163.94h15.09v9.11h-15.09zM181.13 182.16h15.09v9.11h-15.09z"/>
<path fill="#9cc959" d="M301.88 54.65h15.09v9.11h-15.09zM166.03 63.76h15.09v9.11h-15.09zM150.94 72.86h15.09v9.11h-15.09zM347.16 81.97h15.09v9.11h-15.09zM120.75 91.08h15.09v9.11h-15.09zM362.26 100.19h15.09v9.11h-15.09zM105.66 154.84h15.09v9.11h-15.09zM105.66 163.94h15.09v9.11h-15.09zM362.26 163.94h15.09v9.11h-15.09zM362.26 173.05h15.09v9.11h-15.09zM120.75 182.16h15.09v9.11h-15.09zM135.85 191.27h15.09v9.11h-15.09zM347.16 191.27h15.09v9.11h-15.09zM150.94 200.38h15.09v9.11h-15.09zM332.07 200.38h15.09v9.11h-15.09zM135.85 209.48h30.19v9.11h-30.19zM316.97 209.48h15.09v9.11h-15.09zM166.03 218.59h30.19v9.11h-30.19zM286.79 218.59h30.19v9.11h-30.19z"/>
<path fill="#76c090" d="M181.13 63.76h15.09v9.11h-15.09zM166.03 72.86h15.09v9.11h-15.09zM347.16 100.19h15.09v9.11h-15.09zM120.75 145.73h15.09v9.11h-15.09zM135.85 163.94h15.09v9.11h-15.09zM316.97 191.27h15.09v9.11h-15.09zM271.69 200.38h30.19v9.11h-30.19z"/>
<path fill="#6dc5be" d="M196.22 63.76h15.09v9.11h-15.09zM166.03 81.97h15.09v9.11h-15.09zM150.94 91.08h15.09v9.11h-15.09zM332.07 91.08h15.09v9.11h-15.09zM347.16 127.51h15.09v9.11h-15.09zM135.85 145.73h15.09v9.11h-15.09zM166.03 173.05h15.09v9.11h-15.09zM301.88 182.16h15.09v9.11h-15.09zM271.69 191.27h30.19v9.11h-30.19z"/>
<path fill="#69c7cf" d="M211.32 63.76h15.09v9.11h-15.09zM286.79 63.76h15.09v9.11h-15.09zM181.13 72.86h15.09v9.11h-15.09zM301.88 72.86h15.09v9.11h-15.09zM316.97 81.97h15.09v9.11h-15.09zM332.07 100.19h15.09v9.11h-15.09zM135.85 109.3h15.09v9.11h-15.09zM135.85 127.51h15.09v9.11h-15.09zM135.85 136.62h15.09v9.11h-15.09zM332.07 145.73h15.09v9.11h-15.09zM150.94 154.84h15.09v9.11h-15.09zM332.07 154.84h15.09v9.11h-15.09zM166.03 163.94h15.09v9.11h-15.09zM181.13 173.05h15.09v9.11h-15.09zM316.97 173.05h15.09v9.11h-15.09zM286.79 182.16h15.09v9.11h-15.09zM196.22 191.27h75.47v9.11h-75.47z"/>
<path fill="#56c6e7" d="M226.41 63.76h45.28v9.11h-45.28zM196.22 72.86h15.09v9.11h-15.09zM286.79 72.86h15.09v9.11h-15.09zM181.13 81.97h15.09v9.11h-15.09zM301.88 81.97h15.09v9.11h-15.09zM166.03 91.08h15.09v9.11h-15.09zM316.97 91.08h15.09v9.11h-15.09zM150.94 109.3h15.09v9.11h-15.09zM332.07 118.4h15.09v9.11h-15.09zM150.94 127.51h15.09v9.11h-15.09zM332.07 127.51h15.09v9.11h-15.09zM150.94 136.62h15.09v9.11h-15.09zM166.03 145.73h15.09v9.11h-15.09zM166.03 154.84h15.09v9.11h-15.09zM316.97 154.84h15.09v9.11h-15.09zM301.88 163.94h15.09v9.11h-15.09zM286.79 173.05h15.09v9.11h-15.09zM211.32 182.16h60.38v9.11h-60.38z"/>
<path fill="#64c9e1" d="M271.69 63.76h15.09v9.11h-15.09zM150.94 100.19h15.09v9.11h-15.09zM332.07 109.3h15.09v9.11h-15.09zM135.85 118.4h15.09v9.11h-15.09zM332.07 136.62h15.09v9.11h-15.09zM150.94 145.73h15.09v9.11h-15.09zM181.13 163.94h15.09v9.11h-15.09zM316.97 163.94h15.09v9.11h-15.09zM301.88 173.05h15.09v9.11h-15.09zM196.22 182.16h15.09v9.11h-15.09zM271.69 182.16h15.09v9.11h-15.09z"/>
<path fill="#39bced" d="M211.32 72.86h15.09v9.11h-15.09zM271.69 72.86h15.09v9.11h-15.09zM181.13 91.08h15.09v9.11h-15.09zM301.88 91.08h15.09v9.11h-15.09zM166.03 100.19h15.09v9.11h-15.09zM166.03 109.3h15.09v9.11h-15.09zM316.97 109.3h15.09v9.11h-15.09zM316.97 118.4h15.09v9.11h-15.09zM166.03 127.51h15.09v9.11h-15.09zM316.97 127.51h15.09v9.11h-15.09zM316.97 136.62h15.09v9.11h-15.09zM301.88 154.84h15.09v9.11h-15.09zM286.79 163.94h15.09v9.11h-15.09zM196.22 173.05h45.28v9.11h-45.28zM256.6 173.05h15.09v9.11h-15.09z"/>
<path fill="#34b6ea" d="M226.41 72.86h15.09v9.11h-15.09zM256.6 72.86h15.09v9.11h-15.09zM196.22 81.97h15.09v9.11h-15.09zM286.79 81.97h15.09v9.11h-15.09zM181.13 100.19h15.09v9.11h-15.09zM301.88 100.19h15.09v9.11h-15.09zM166.03 118.4h15.09v9.11h-15.09zM301.88 136.62h15.09v9.11h-15.09zM181.13 145.73h15.09v9.11h-15.09zM301.88 145.73h15.09v9.11h-15.09zM286.79 154.84h15.09v9.11h-15.09zM196.22 163.94h30.19v9.11h-30.19zM256.6 163.94h30.19v9.11h-30.19zM241.5 173.05h15.09v9.11h-15.09z"/>
<path fill="#37a5e0" d="M241.5 72.86h15.09v9.11h-15.09zM181.13 127.51h15.09v9.11h-15.09zM181.13 136.62h15.09v9.11h-15.09zM286.79 145.73h15.09v9.11h-15.09zM271.69 154.84h15.09v9.11h-15.09zM226.41 163.94h30.19v9.11h-30.19z"/>
<path fill="#85c479" d="M332.07 72.86h15.09v9.11h-15.09zM362.26 118.4h15.09v9.11h-15.09zM105.66 136.62h15.09v9.11h-15.09zM362.26 145.73h15.09v9.11h-15.09zM150.94 191.27h15.09v9.11h-15.09zM332.07 191.27h15.09v9.11h-15.09zM166.03 200.38h15.09v9.11h-15.09zM181.13 209.48h15.09v9.11h-15.09zM286.79 209.48h15.09v9.11h-15.09z"/>
<path fill="#3993d4" d="M211.32 81.97h15.09v9.11h-15.09zM271.69 81.97h15.09v9.11h-15.09zM196.22 91.08h15.09v9.11h-15.09zM286.79 91.08h15.09v9.11h-15.09zM181.13 109.3h15.09v9.11h-15.09zM301.88 109.3h15.09v9.11h-15.09zM181.13 118.4h15.09v9.11h-15.09zM301.88 118.4h15.09v9.11h-15.09zM301.88 127.51h15.09v9.11h-15.09zM286.79 136.62h15.09v9.11h-15.09zM196.22 154.84h30.19v9.11h-30.19zM256.6 154.84h15.09v9.11h-15.09z"/>
<path fill="#3881c5" d="M226.41 81.97h45.28v9.11h-45.28zM211.32 91.08h15.09v9.11h-15.09zM271.69 91.08h15.09v9.11h-15.09zM196.22 100.19h15.09v9.11h-15.09zM286.79 100.19h15.09v9.11h-15.09zM286.79 109.3h15.09v9.11h-15.09zM196.22 145.73h15.09v9.11h-15.09zM271.69 145.73h15.09v9.11h-15.09zM226.41 154.84h30.19v9.11h-30.19z"/>
<path fill="#376bb6" d="M226.41 91.08h45.28v9.11h-45.28zM211.32 100.19h75.47v9.11h-75.47zM211.32 109.3h75.47v9.11h-75.47zM196.22 118.4h90.56v9.11h-90.56zM196.22 127.51h90.56v9.11h-90.56zM211.32 136.62h60.38v9.11h-60.38zM226.41 145.73h30.19v9.11h-30.19z"/>
<path fill="#eee81b" d="M377.35 91.08h15.09v9.11h-15.09zM75.47 109.3h15.09v9.11h-15.09zM392.44 127.51h15.09v9.11h-15.09zM392.44 154.84h15.09v9.11h-15.09zM75.47 163.94h15.09v9.11h-15.09zM90.56 200.38h15.09v9.11h-15.09zM90.56 218.59h15.09v9.11h-15.09zM347.16 227.7h15.09v9.11h-15.09zM332.07 236.81h15.09v9.11h-15.09zM135.85 245.92h15.09v9.11h-15.09zM301.88 245.92h15.09v9.11h-15.09zM181.13 255.02h90.56v9.11h-90.56z"/>
<path fill="#42c1ed" d="M316.97 100.19h15.09v9.11h-15.09zM150.94 118.4h15.09v9.11h-15.09zM166.03 136.62h15.09v9.11h-15.09zM316.97 145.73h15.09v9.11h-15.09zM181.13 154.84h15.09v9.11h-15.09zM271.69 173.05h15.09v9.11h-15.09z"/>
<path fill="#3774bb" d="M196.22 109.3h15.09v9.11h-15.09zM286.79 118.4h15.09v9.11h-15.09zM286.79 127.51h15.09v9.11h-15.09zM196.22 136.62h15.09v9.11h-15.09zM271.69 136.62h15.09v9.11h-15.09zM211.32 145.73h15.09v9.11h-15.09zM256.6 145.73h15.09v9.11h-15.09z"/>
<path fill="#e82429" d="M437.73 127.51h15.09v9.11h-15.09zM0 136.62h15.09v9.11h-15.09zM0 227.7h15.09v9.11h-15.09zM437.73 227.7h15.09v9.11h-15.09zM0 236.81h15.09v9.11h-15.09zM422.63 255.02h15.09v9.11h-15.09zM15.09 264.13h15.09v9.11h-15.09z"/>
</g>
<path class="g" d="M15.09 0v273.24M30.19 0v273.24M45.28 0v273.24M60.38 0v273.24M75.47 0v273.24M90.56 0v273.24M105.66 0v273.24M120.75 0v273.24M135.85 0v273.24M150.94 0v273.24M166.03 0v273.24M181.13 0v273.24M196.22 0v273.24M211.32 0v273.24M226.41 0v273.24M241.5 0v273.24M256.6 0v273.24M271.69 0v273.24M286.79 0v273.24M301.88 0v273.24M316.97 0v273.24M332.07 0v273.24M347.16 0v273.24M362.26 0v273.24M377.35 0v273.24M392.44 0v273.24M407.54 0v273.24M422.63 0v273.24M437.73 0v273.24M452.82 0v273.24M467.91 0v273.24M483.01 0v273.24M498.1 0v273.24M0 9.11h513.2M0 18.22h513.2M0 27.32h513.2M0 36.43h513.2M0 45.54h513.2M0 54.65h513.2M0 63.76h513.2M0 72.86h513.2M0 81.97h513.2M0 91.08h513.2M0 100.19h513.2M0 109.3h513.2M0 118.4h513.2M0 127.51h513.2M0 136.62h513.2M0 145.73h513.2M0 154.84h513.2M0 163.94h513.2M0 173.05h513.2M0 182.16h513.2M0 191.27h513.2M0 200.38h513.2M0 209.48h513.2M0 218.59h513.2M0 227.7h513.2M0 236.81h513.2M0 245.92h513.2M0 255.02h513.2M0 264.13h513.2"/>
<rect class="b" x="181.13" y="63.76" width="150.94" height="136.62"/>
<rect class="a" x="0" y="0" width="513.2" height="273.24"/>
</g>
<text class="t" x="82.9" y="1173.1" text-anchor="end">0</text>
<text class="t" x="82.9" y="1218.64" text-anchor="end">-50</text>
<text class="t" x="82.9" y="1264.18" text-anchor="end">-100</text>
<text class="t" x="82.9" y="1309.72" text-anchor="end">-150</text>
<text class="t" x="82.9" y="1355.26" text-anchor="end">-200</text>
<text class="t" x="82.9" y="1400.8" text-anchor="end">-250</text>
<text class="t" x="82.9" y="1446.34" text-anchor="end">-300</text>
<text class="t" x="116.09" y="1454.24" text-anchor="middle">-150</text>
<text class="t" x="191.56" y="1454.24" text-anchor="middle">-100</text>
<text class="t" x="267.03" y="1454.24" text-anchor="middle">-50</text>
<text class="t" x="342.5" y="1454.24" text-anchor="middle">0</text>
<text class="t" x="417.97" y="1454.24" text-anchor="middle">50</text>
<text class="t" x="493.44" y="1454.24" text-anchor="middle">100</text>
<text class="t" x="568.91" y="1454.24" text-anchor="middle">150</text>
<text class="l" x="342.1" y="1468.64" text-anchor="middle">Distance (m)</text>
<text class="l" transform="translate(62,1306.7) rotate(-90)" text-anchor="middle">Depth (m)</text>
<rect x="603.3" y="1169.8" width="9.6" height="5.07" fill="#6f1113"/>
<rect x="603.3" y="1174.07" width="9.6" height="5.07" fill="#791517"/>
<rect x="603.3" y="1178.34" width="9.6" height="5.07" fill="#8f191e"/>
<rect x="603.3" y="1182.61" width="9.6" height="5.07" fill="#a91e26"/>
<rect x="603.3" y="1186.88" width="9.6" height="5.07" fill="#ba1e2a"/>
<rect x="603.3" y="1191.15" width="9.6" height="5.07" fill="#cb1e2d"/>
<rect x="603.3" y="1195.42" width="9.6" height="5.07" fill="#dd1f2c"/>
<rect x="603.3" y="1199.69" width="9.6" height="5.07" fill="#e8202c"/>
<rect x="603.3" y="1203.95" width="9.6" height="5.07" fill="#e8212b"/>
<rect x="603.3" y="1208.22" width="9.6" height="5.07" fill="#e8212b"/>
<rect x="603.3" y="1212.49" width="9.6" height="5.07" fill="#e82429"/>
<rect x="603.3" y="1216.76" width="9.6" height="5.07" fill="#ea3327"/>
<rect x="603.3" y="1221.03" width="9.6" height="5.07" fill="#ec4626"/>
<rect x="603.3" y="1225.3" width="9.6" height="5.07" fill="#ee5824"/>
<rect x="603.3" y="1229.57" width="9.6" height="5.07" fill="#f06723"/>
<rect x="603.3" y="1233.84" width="9.6" height="5.07" fill="#f17222"/>
<rect x="603.3" y="1238.11" width="9.6" height="5.07" fill="#f38020"/>
<rect x="603.3" y="1242.38" width="9.6" height="5.07" fill="#f5911e"/>
<rect x="603.3" y="1246.65" width="9.6" height="5.07" fill="#f7a01a"/>
<rect x="603.3" y="1250.92" width="9.6" height="5.07" fill="#faae13"/>
<rect x="603.3" y="1255.19" width="9.6" height="5.07" fill="#fdbc0d"/>
<rect x="603.3" y="1259.46" width="9.6" height="5.07" fill="#ffca08"/>
<rect x="603.3" y="1263.73" width="9.6" height="5.07" fill="#fdd806"/>
<rect x="603.3" y="1268" width="9.6" height="5.07" fill="#fae308"/>
<rect x="603.3" y="1272.26" width="9.6" height="5.07" fill="#f7e911"/>
<rect x="603.3" y="1276.53" width="9.6" height="5.07" fill="#eee81b"/>
<rect x="603.3" y="1280.8" width="9.6" height="5.07" fill="#e3e226"/>
<rect x="603.3" y="1285.07" width="9.6" height="5.07" fill="#d3da2d"/>
<rect x="603.3" y="1289.34" width="9.6" height="5.07" fill="#c2d232"/>
<rect x="603.3" y="1293.61" width="9.6" height="5.07" fill="#b4cf38"/>
<rect x="603.3" y="1297.88" width="9.6" height="5.07" fill="#a7cc42"/>
<rect x="603.3" y="1302.15" width="9.6" height="5.07" fill="#9cc959"/>
<rect x="603.3" y="1306.42" width="9.6" height="5.07" fill="#90c76b"/>
<rect x="603.3" y="1310.69" width="9.6" height="5.07" fill="#85c479"/>
<rect x="603.3" y="1314.96" width="9.6" height="5.07" fill="#7dc285"/>
<rect x="603.3" y="1319.23" width="9.6" height="5.07" fill="#76c090"/>
<rect x="603.3" y="1323.5" width="9.6" height="5.07" fill="#73c29f"/>
<rect x="603.3" y="1327.77" width="9.6" height="5.07" fill="#70c3af"/>
<rect x="603.3" y="1332.04" width="9.6" height="5.07" fill="#6dc5be"/>
<rect x="603.3" y="1336.31" width="9.6" height="5.07" fill="#69c7cf"/>
<rect x="603.3" y="1340.58" width="9.6" height="5.07" fill="#64c9e1"/>
<rect x="603.3" y="1344.84" width="9.6" height="5.07" fill="#56c6e7"/>
<rect x="603.3" y="1349.11" width="9.6" height="5.07" fill="#42c1ed"/>
<rect x="603.3" y="1353.38" width="9.6" height="5.07" fill="#39bced"/>
<rect x="603.3" y="1357.65" width="9.6" height="5.07" fill="#34b6ea"/>
<rect x="603.3" y="1361.92" width="9.6" height="5.07" fill="#37a5e0"/>
<rect x="603.3" y="1366.19" width="9.6" height="5.07" fill="#3993d4"/>
<rect x="603.3" y="1370.46" width="9.6" height="5.07" fill="#3881c5"/>
<rect x="603.3" y="1374.73" width="9.6" height="5.07" fill="#3774bb"/>
<rect x="603.3" y="1379" width="9.6" height="5.07" fill="#376bb6"/>
<rect x="603.3" y="1383.27" width="9.6" height="5.07" fill="#3565b1"/>
<rect x="603.3" y="1387.54" width="9.6" height="5.07" fill="#325fad"/>
<rect x="603.3" y="1391.81" width="9.6" height="5.07" fill="#2f5aa9"/>
<rect x="603.3" y="1396.08" width="9.6" height="5.07" fill="#2d55a5"/>
<rect x="603.3" y="1400.35" width="9.6" height="5.07" fill="#2b52a3"/>
<rect x="603.3" y="1404.62" width="9.6" height="5.07" fill="#294fa2"/>
<rect x="603.3" y="1408.88" width="9.6" height="5.07" fill="#274ca1"/>
<rect x="603.3" y="1413.15" width="9.6" height="5.07" fill="#26499d"/>
<rect x="603.3" y="1417.42" width="9.6" height="5.07" fill="#264599"/>
<rect x="603.3" y="1421.69" width="9.6" height="5.07" fill="#264195"/>
<rect x="603.3" y="1425.96" width="9.6" height="5.07" fill="#263e90"/>
<rect x="603.3" y="1430.23" width="9.6" height="5.07" fill="#283885"/>
<rect x="603.3" y="1434.5" width="9.6" height="5.07" fill="#2a327b"/>
<rect x="603.3" y="1438.77" width="9.6" height="4.27" fill="#2b2d71"/>
<text class="t u" x="615.6" y="1445.64">1</text>
<path class="g" d="M612.9 1412.68h-2.6"/>
<text class="t u" x="615.6" y="1415.58">2</text>
<path class="g" d="M612.9 1382.32h-2.6"/>
<text class="t u" x="615.6" y="1385.22">3</text>
<path class="g" d="M612.9 1351.96h-2.6"/>
<text class="t u" x="615.6" y="1354.86">4</text>
<path class="g" d="M612.9 1321.6h-2.6"/>
<text class="t u" x="615.6" y="1324.5">5</text>
<path class="g" d="M612.9 1291.24h-2.6"/>
<text class="t u" x="615.6" y="1294.14">6</text>
<path class="g" d="M612.9 1260.88h-2.6"/>
<text class="t u" x="615.6" y="1263.78">7</text>
<path class="g" d="M612.9 1230.52h-2.6"/>
<text class="t u" x="615.6" y="1233.42">8</text>
<path class="g" d="M612.9 1200.16h-2.6"/>
<text class="t u" x="615.6" y="1203.06">9</text>
<text class="t u" x="615.6" y="1173.4">10</text>
<text class="l" transform="translate(638.2,1306.1) rotate(-90)" text-anchor="middle">Resistivity (Ohm.m)</text>
<text class="c" transform="translate(2,346.9) scale(1.12,1)" textLength="609.37" lengthAdjust="spacing">(<tspan class="sc">A</tspan>) A conductive paleochannel (1 Ohm.m) enclosed by a less con-</text>
<text class="c" transform="translate(1,373.7) scale(1.12,1)" textLength="276.34" lengthAdjust="spacing">ductive host rock (10 Ohm.m).</text>
<text class="c" transform="translate(11,753.6) scale(1.12,1)" textLength="591.96" lengthAdjust="spacing">(<tspan class="sc">B</tspan>) Resistivity profile of the paleochannel using the DC inversion.</text>
<text class="c" transform="translate(3.5,1133) scale(1.12,1)" textLength="604.91" lengthAdjust="spacing">(<tspan class="sc">C</tspan>) Resistivity profile of the paleochannel using the TEM inversion.</text>
<text class="c" transform="translate(2,1505) scale(1.12,1)" textLength="608.04" lengthAdjust="spacing">(<tspan class="sc">D</tspan>) Resistivity profile of the simulated paleochannel using the joint</text>
<text class="c" transform="translate(2,1531.7) scale(1.12,1)" textLength="81.25" lengthAdjust="spacing">inversion.</text>
</svg></body></html>
